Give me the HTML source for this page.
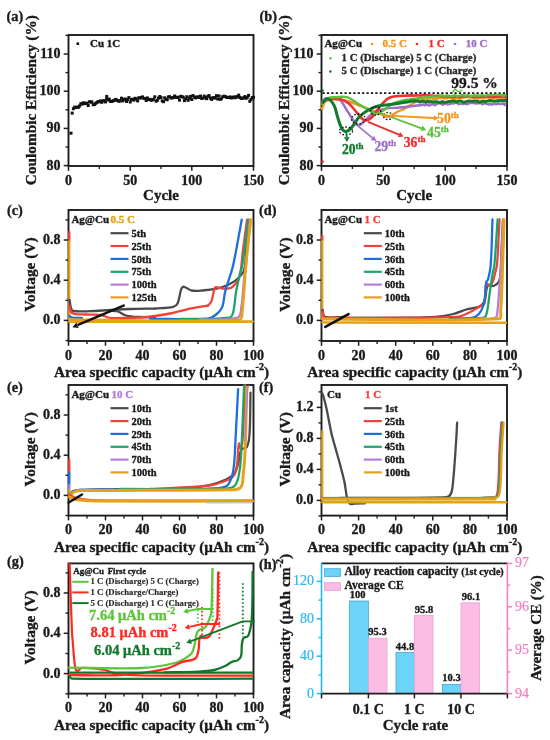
<!DOCTYPE html>
<html><head><meta charset="utf-8"><style>html,body{margin:0;padding:0;background:#fff;overflow:hidden;width:550px;height:740px}svg{display:block;filter:blur(0.4px)}</style></head>
<body>
<svg width="550" height="740" viewBox="0 0 550 740" font-family='"Liberation Serif", serif' font-weight="bold">
<rect width="550" height="740" fill="#fff"/>
<rect x="68.5" y="35" width="185.0" height="131.0" fill="none" stroke="#1e1e1e" stroke-width="1.9"/>
<line x1="63.7" y1="165.6" x2="68.5" y2="165.6" stroke="#1e1e1e" stroke-width="1.5"/>
<line x1="63.7" y1="128.4" x2="68.5" y2="128.4" stroke="#1e1e1e" stroke-width="1.5"/>
<line x1="63.7" y1="91.2" x2="68.5" y2="91.2" stroke="#1e1e1e" stroke-width="1.5"/>
<line x1="63.7" y1="54.0" x2="68.5" y2="54.0" stroke="#1e1e1e" stroke-width="1.5"/>
<line x1="65.5" y1="147.0" x2="68.5" y2="147.0" stroke="#1e1e1e" stroke-width="1.4"/>
<line x1="65.5" y1="109.8" x2="68.5" y2="109.8" stroke="#1e1e1e" stroke-width="1.4"/>
<line x1="65.5" y1="72.6" x2="68.5" y2="72.6" stroke="#1e1e1e" stroke-width="1.4"/>
<line x1="65.5" y1="35.4" x2="68.5" y2="35.4" stroke="#1e1e1e" stroke-width="1.4"/>
<text x="60.5" y="169.5" font-size="14" text-anchor="end" fill="#1a1a1a" stroke="#1a1a1a" stroke-width="0.35">80</text>
<text x="60.5" y="132.3" font-size="14" text-anchor="end" fill="#1a1a1a" stroke="#1a1a1a" stroke-width="0.35">90</text>
<text x="60.5" y="95.1" font-size="14" text-anchor="end" fill="#1a1a1a" stroke="#1a1a1a" stroke-width="0.35">100</text>
<text x="60.5" y="57.9" font-size="14" text-anchor="end" fill="#1a1a1a" stroke="#1a1a1a" stroke-width="0.35">110</text>
<line x1="68.5" y1="166" x2="68.5" y2="170.8" stroke="#1e1e1e" stroke-width="1.5"/>
<line x1="130.2" y1="166" x2="130.2" y2="170.8" stroke="#1e1e1e" stroke-width="1.5"/>
<line x1="191.8" y1="166" x2="191.8" y2="170.8" stroke="#1e1e1e" stroke-width="1.5"/>
<line x1="253.5" y1="166" x2="253.5" y2="170.8" stroke="#1e1e1e" stroke-width="1.5"/>
<line x1="99.3" y1="166" x2="99.3" y2="169.0" stroke="#1e1e1e" stroke-width="1.4"/>
<line x1="161.0" y1="166" x2="161.0" y2="169.0" stroke="#1e1e1e" stroke-width="1.4"/>
<line x1="222.7" y1="166" x2="222.7" y2="169.0" stroke="#1e1e1e" stroke-width="1.4"/>
<text x="68.5" y="184.5" font-size="14" text-anchor="middle" fill="#1a1a1a" stroke="#1a1a1a" stroke-width="0.35">0</text>
<text x="130.2" y="184.5" font-size="14" text-anchor="middle" fill="#1a1a1a" stroke="#1a1a1a" stroke-width="0.35">50</text>
<text x="191.8" y="184.5" font-size="14" text-anchor="middle" fill="#1a1a1a" stroke="#1a1a1a" stroke-width="0.35">100</text>
<text x="253.5" y="184.5" font-size="14" text-anchor="middle" fill="#1a1a1a" stroke="#1a1a1a" stroke-width="0.35">150</text>
<text x="161.0" y="200.0" font-size="15" text-anchor="middle" fill="#1a1a1a" stroke="#1a1a1a" stroke-width="0.35">Cycle</text>
<text x="36.2" y="100.2" font-size="15.3" text-anchor="middle" fill="#1a1a1a" stroke="#1a1a1a" stroke-width="0.35" transform="rotate(-90 36.2 100.2)">Coulombic Efficiency (%)</text>
<text x="6.5" y="21.0" font-size="14.3" text-anchor="start" fill="#1a1a1a" stroke="#1a1a1a" stroke-width="0.35">(a)</text>
<rect x="69.5" y="131.7" width="3" height="3" fill="#111"/>
<rect x="70.7" y="111.6" width="3" height="3" fill="#111"/>
<rect x="71.9" y="107.2" width="3" height="3" fill="#111"/>
<rect x="73.2" y="105.6" width="3" height="3" fill="#111"/>
<rect x="74.4" y="106.0" width="3" height="3" fill="#111"/>
<rect x="75.6" y="105.6" width="3" height="3" fill="#111"/>
<rect x="76.9" y="105.8" width="3" height="3" fill="#111"/>
<rect x="78.1" y="104.4" width="3" height="3" fill="#111"/>
<rect x="79.3" y="102.2" width="3" height="3" fill="#111"/>
<rect x="80.6" y="102.6" width="3" height="3" fill="#111"/>
<rect x="81.8" y="101.3" width="3" height="3" fill="#111"/>
<rect x="83.0" y="102.1" width="3" height="3" fill="#111"/>
<rect x="84.3" y="101.7" width="3" height="3" fill="#111"/>
<rect x="85.5" y="101.7" width="3" height="3" fill="#111"/>
<rect x="86.7" y="104.0" width="3" height="3" fill="#111"/>
<rect x="88.0" y="100.3" width="3" height="3" fill="#111"/>
<rect x="89.2" y="100.6" width="3" height="3" fill="#111"/>
<rect x="90.4" y="100.4" width="3" height="3" fill="#111"/>
<rect x="91.7" y="103.2" width="3" height="3" fill="#111"/>
<rect x="92.9" y="103.1" width="3" height="3" fill="#111"/>
<rect x="94.1" y="101.9" width="3" height="3" fill="#111"/>
<rect x="95.4" y="101.1" width="3" height="3" fill="#111"/>
<rect x="96.6" y="100.0" width="3" height="3" fill="#111"/>
<rect x="97.8" y="100.3" width="3" height="3" fill="#111"/>
<rect x="99.1" y="99.4" width="3" height="3" fill="#111"/>
<rect x="100.3" y="100.8" width="3" height="3" fill="#111"/>
<rect x="101.5" y="99.4" width="3" height="3" fill="#111"/>
<rect x="102.8" y="99.1" width="3" height="3" fill="#111"/>
<rect x="104.0" y="100.4" width="3" height="3" fill="#111"/>
<rect x="105.2" y="97.1" width="3" height="3" fill="#111"/>
<rect x="106.5" y="98.5" width="3" height="3" fill="#111"/>
<rect x="107.7" y="97.6" width="3" height="3" fill="#111"/>
<rect x="108.9" y="99.9" width="3" height="3" fill="#111"/>
<rect x="110.2" y="100.0" width="3" height="3" fill="#111"/>
<rect x="111.4" y="99.4" width="3" height="3" fill="#111"/>
<rect x="112.6" y="99.0" width="3" height="3" fill="#111"/>
<rect x="113.9" y="97.9" width="3" height="3" fill="#111"/>
<rect x="115.1" y="98.4" width="3" height="3" fill="#111"/>
<rect x="116.3" y="99.2" width="3" height="3" fill="#111"/>
<rect x="117.6" y="99.8" width="3" height="3" fill="#111"/>
<rect x="118.8" y="99.1" width="3" height="3" fill="#111"/>
<rect x="120.0" y="96.7" width="3" height="3" fill="#111"/>
<rect x="121.3" y="99.4" width="3" height="3" fill="#111"/>
<rect x="122.5" y="97.9" width="3" height="3" fill="#111"/>
<rect x="123.7" y="97.5" width="3" height="3" fill="#111"/>
<rect x="125.0" y="100.0" width="3" height="3" fill="#111"/>
<rect x="126.2" y="97.9" width="3" height="3" fill="#111"/>
<rect x="127.4" y="96.1" width="3" height="3" fill="#111"/>
<rect x="128.7" y="100.5" width="3" height="3" fill="#111"/>
<rect x="129.9" y="98.1" width="3" height="3" fill="#111"/>
<rect x="131.1" y="97.7" width="3" height="3" fill="#111"/>
<rect x="132.4" y="98.6" width="3" height="3" fill="#111"/>
<rect x="133.6" y="96.8" width="3" height="3" fill="#111"/>
<rect x="134.8" y="97.5" width="3" height="3" fill="#111"/>
<rect x="136.1" y="99.4" width="3" height="3" fill="#111"/>
<rect x="137.3" y="96.3" width="3" height="3" fill="#111"/>
<rect x="138.5" y="96.5" width="3" height="3" fill="#111"/>
<rect x="139.8" y="96.1" width="3" height="3" fill="#111"/>
<rect x="141.0" y="95.4" width="3" height="3" fill="#111"/>
<rect x="142.2" y="96.8" width="3" height="3" fill="#111"/>
<rect x="143.5" y="97.1" width="3" height="3" fill="#111"/>
<rect x="144.7" y="99.0" width="3" height="3" fill="#111"/>
<rect x="145.9" y="96.4" width="3" height="3" fill="#111"/>
<rect x="147.2" y="98.0" width="3" height="3" fill="#111"/>
<rect x="148.4" y="97.8" width="3" height="3" fill="#111"/>
<rect x="149.6" y="98.8" width="3" height="3" fill="#111"/>
<rect x="150.9" y="98.4" width="3" height="3" fill="#111"/>
<rect x="152.1" y="97.8" width="3" height="3" fill="#111"/>
<rect x="153.3" y="95.3" width="3" height="3" fill="#111"/>
<rect x="154.6" y="99.7" width="3" height="3" fill="#111"/>
<rect x="155.8" y="98.9" width="3" height="3" fill="#111"/>
<rect x="157.0" y="96.6" width="3" height="3" fill="#111"/>
<rect x="158.3" y="95.0" width="3" height="3" fill="#111"/>
<rect x="159.5" y="96.1" width="3" height="3" fill="#111"/>
<rect x="160.7" y="99.4" width="3" height="3" fill="#111"/>
<rect x="162.0" y="100.2" width="3" height="3" fill="#111"/>
<rect x="163.2" y="96.3" width="3" height="3" fill="#111"/>
<rect x="164.4" y="97.8" width="3" height="3" fill="#111"/>
<rect x="165.7" y="98.3" width="3" height="3" fill="#111"/>
<rect x="166.9" y="95.4" width="3" height="3" fill="#111"/>
<rect x="168.1" y="95.2" width="3" height="3" fill="#111"/>
<rect x="169.4" y="96.5" width="3" height="3" fill="#111"/>
<rect x="170.6" y="96.3" width="3" height="3" fill="#111"/>
<rect x="171.8" y="96.1" width="3" height="3" fill="#111"/>
<rect x="173.1" y="94.5" width="3" height="3" fill="#111"/>
<rect x="174.3" y="95.8" width="3" height="3" fill="#111"/>
<rect x="175.5" y="95.9" width="3" height="3" fill="#111"/>
<rect x="176.8" y="95.8" width="3" height="3" fill="#111"/>
<rect x="178.0" y="98.6" width="3" height="3" fill="#111"/>
<rect x="179.2" y="94.8" width="3" height="3" fill="#111"/>
<rect x="180.5" y="95.2" width="3" height="3" fill="#111"/>
<rect x="181.7" y="95.7" width="3" height="3" fill="#111"/>
<rect x="182.9" y="99.1" width="3" height="3" fill="#111"/>
<rect x="184.2" y="97.2" width="3" height="3" fill="#111"/>
<rect x="185.4" y="95.2" width="3" height="3" fill="#111"/>
<rect x="186.6" y="98.8" width="3" height="3" fill="#111"/>
<rect x="187.9" y="96.6" width="3" height="3" fill="#111"/>
<rect x="189.1" y="94.9" width="3" height="3" fill="#111"/>
<rect x="190.3" y="98.0" width="3" height="3" fill="#111"/>
<rect x="191.6" y="94.1" width="3" height="3" fill="#111"/>
<rect x="192.8" y="95.5" width="3" height="3" fill="#111"/>
<rect x="194.0" y="96.4" width="3" height="3" fill="#111"/>
<rect x="195.3" y="95.7" width="3" height="3" fill="#111"/>
<rect x="196.5" y="95.3" width="3" height="3" fill="#111"/>
<rect x="197.7" y="96.0" width="3" height="3" fill="#111"/>
<rect x="199.0" y="94.6" width="3" height="3" fill="#111"/>
<rect x="200.2" y="97.0" width="3" height="3" fill="#111"/>
<rect x="201.4" y="96.6" width="3" height="3" fill="#111"/>
<rect x="202.7" y="94.6" width="3" height="3" fill="#111"/>
<rect x="203.9" y="96.0" width="3" height="3" fill="#111"/>
<rect x="205.1" y="97.2" width="3" height="3" fill="#111"/>
<rect x="206.4" y="94.8" width="3" height="3" fill="#111"/>
<rect x="207.6" y="94.1" width="3" height="3" fill="#111"/>
<rect x="208.8" y="96.7" width="3" height="3" fill="#111"/>
<rect x="210.1" y="97.9" width="3" height="3" fill="#111"/>
<rect x="211.3" y="96.3" width="3" height="3" fill="#111"/>
<rect x="212.5" y="96.3" width="3" height="3" fill="#111"/>
<rect x="213.8" y="96.5" width="3" height="3" fill="#111"/>
<rect x="215.0" y="94.2" width="3" height="3" fill="#111"/>
<rect x="216.2" y="97.5" width="3" height="3" fill="#111"/>
<rect x="217.5" y="94.4" width="3" height="3" fill="#111"/>
<rect x="218.7" y="97.8" width="3" height="3" fill="#111"/>
<rect x="219.9" y="97.2" width="3" height="3" fill="#111"/>
<rect x="221.2" y="95.3" width="3" height="3" fill="#111"/>
<rect x="222.4" y="94.7" width="3" height="3" fill="#111"/>
<rect x="223.6" y="95.0" width="3" height="3" fill="#111"/>
<rect x="224.9" y="95.7" width="3" height="3" fill="#111"/>
<rect x="226.1" y="96.0" width="3" height="3" fill="#111"/>
<rect x="227.3" y="96.0" width="3" height="3" fill="#111"/>
<rect x="228.6" y="95.4" width="3" height="3" fill="#111"/>
<rect x="229.8" y="96.5" width="3" height="3" fill="#111"/>
<rect x="231.0" y="95.9" width="3" height="3" fill="#111"/>
<rect x="232.3" y="95.5" width="3" height="3" fill="#111"/>
<rect x="233.5" y="96.3" width="3" height="3" fill="#111"/>
<rect x="234.7" y="95.2" width="3" height="3" fill="#111"/>
<rect x="236.0" y="95.5" width="3" height="3" fill="#111"/>
<rect x="237.2" y="93.6" width="3" height="3" fill="#111"/>
<rect x="238.4" y="95.9" width="3" height="3" fill="#111"/>
<rect x="239.7" y="96.9" width="3" height="3" fill="#111"/>
<rect x="240.9" y="96.8" width="3" height="3" fill="#111"/>
<rect x="242.1" y="96.3" width="3" height="3" fill="#111"/>
<rect x="243.4" y="95.1" width="3" height="3" fill="#111"/>
<rect x="244.6" y="96.8" width="3" height="3" fill="#111"/>
<rect x="245.8" y="95.8" width="3" height="3" fill="#111"/>
<rect x="247.1" y="93.9" width="3" height="3" fill="#111"/>
<rect x="248.3" y="99.8" width="3" height="3" fill="#111"/>
<rect x="249.5" y="97.9" width="3" height="3" fill="#111"/>
<rect x="250.8" y="96.1" width="3" height="3" fill="#111"/>
<rect x="252.0" y="95.9" width="3" height="3" fill="#111"/>
<rect x="105.2" y="94.9" width="3" height="3" fill="#111"/>
<rect x="76.5" y="42.4" width="2.6" height="2.6" fill="#111"/>
<text x="90.0" y="46.8" font-size="11" text-anchor="start" fill="#1a1a1a" stroke="#1a1a1a" stroke-width="0.35">Cu 1C</text>
<rect x="321.5" y="35" width="185.5" height="131.0" fill="none" stroke="#1e1e1e" stroke-width="1.9"/>
<line x1="316.7" y1="165.6" x2="321.5" y2="165.6" stroke="#1e1e1e" stroke-width="1.5"/>
<line x1="316.7" y1="128.4" x2="321.5" y2="128.4" stroke="#1e1e1e" stroke-width="1.5"/>
<line x1="316.7" y1="91.2" x2="321.5" y2="91.2" stroke="#1e1e1e" stroke-width="1.5"/>
<line x1="316.7" y1="54.0" x2="321.5" y2="54.0" stroke="#1e1e1e" stroke-width="1.5"/>
<line x1="318.5" y1="147.0" x2="321.5" y2="147.0" stroke="#1e1e1e" stroke-width="1.4"/>
<line x1="318.5" y1="109.8" x2="321.5" y2="109.8" stroke="#1e1e1e" stroke-width="1.4"/>
<line x1="318.5" y1="72.6" x2="321.5" y2="72.6" stroke="#1e1e1e" stroke-width="1.4"/>
<line x1="318.5" y1="35.4" x2="321.5" y2="35.4" stroke="#1e1e1e" stroke-width="1.4"/>
<text x="313.5" y="169.5" font-size="14" text-anchor="end" fill="#1a1a1a" stroke="#1a1a1a" stroke-width="0.35">80</text>
<text x="313.5" y="132.3" font-size="14" text-anchor="end" fill="#1a1a1a" stroke="#1a1a1a" stroke-width="0.35">90</text>
<text x="313.5" y="95.1" font-size="14" text-anchor="end" fill="#1a1a1a" stroke="#1a1a1a" stroke-width="0.35">100</text>
<text x="313.5" y="57.9" font-size="14" text-anchor="end" fill="#1a1a1a" stroke="#1a1a1a" stroke-width="0.35">110</text>
<line x1="321.5" y1="166" x2="321.5" y2="170.8" stroke="#1e1e1e" stroke-width="1.5"/>
<line x1="383.3" y1="166" x2="383.3" y2="170.8" stroke="#1e1e1e" stroke-width="1.5"/>
<line x1="445.2" y1="166" x2="445.2" y2="170.8" stroke="#1e1e1e" stroke-width="1.5"/>
<line x1="507.0" y1="166" x2="507.0" y2="170.8" stroke="#1e1e1e" stroke-width="1.5"/>
<line x1="352.4" y1="166" x2="352.4" y2="169.0" stroke="#1e1e1e" stroke-width="1.4"/>
<line x1="414.2" y1="166" x2="414.2" y2="169.0" stroke="#1e1e1e" stroke-width="1.4"/>
<line x1="476.1" y1="166" x2="476.1" y2="169.0" stroke="#1e1e1e" stroke-width="1.4"/>
<text x="321.5" y="184.5" font-size="14" text-anchor="middle" fill="#1a1a1a" stroke="#1a1a1a" stroke-width="0.35">0</text>
<text x="383.3" y="184.5" font-size="14" text-anchor="middle" fill="#1a1a1a" stroke="#1a1a1a" stroke-width="0.35">50</text>
<text x="445.2" y="184.5" font-size="14" text-anchor="middle" fill="#1a1a1a" stroke="#1a1a1a" stroke-width="0.35">100</text>
<text x="507.0" y="184.5" font-size="14" text-anchor="middle" fill="#1a1a1a" stroke="#1a1a1a" stroke-width="0.35">150</text>
<text x="414.2" y="200.0" font-size="15" text-anchor="middle" fill="#1a1a1a" stroke="#1a1a1a" stroke-width="0.35">Cycle</text>
<text x="289.2" y="100.2" font-size="15.3" text-anchor="middle" fill="#1a1a1a" stroke="#1a1a1a" stroke-width="0.35" transform="rotate(-90 289.2 100.2)">Coulombic Efficiency (%)</text>
<text x="259.5" y="21.0" font-size="14.3" text-anchor="start" fill="#1a1a1a" stroke="#1a1a1a" stroke-width="0.35">(b)</text>
<line x1="322.5" y1="93.1" x2="506.0" y2="93.1" stroke="#111" stroke-width="1.6" stroke-dasharray="2.2,2.2"/>
<path d="M322.00,109.00 C322.99,106.69 323.38,103.92 325.00,102.00 C326.19,100.59 328.17,99.77 330.00,99.50 C333.27,99.02 336.72,99.45 340.00,99.80 C343.01,100.12 346.11,100.61 349.00,101.50 C353.40,102.86 357.69,104.97 362.00,106.60 C367.26,108.60 372.76,110.44 378.00,112.50 C381.34,113.81 384.41,116.89 388.00,116.80 C391.36,116.71 393.98,113.49 397.00,112.00 C399.60,110.72 402.47,109.81 405.00,108.40 C408.42,106.50 411.70,104.11 415.00,102.00" fill="none" stroke="#f7941d" stroke-width="2.4" stroke-linejoin="round" stroke-linecap="round"/>
<path d="M415.0,102.0 L416.6,101.3 L418.2,100.7 L419.8,101.0 L421.4,99.6 L423.0,98.9 L424.6,99.8 L426.2,99.0 L427.8,98.4 L429.4,98.8 L431.0,98.0 L432.6,98.7 L434.2,99.2 L435.8,99.0 L437.4,98.7 L439.0,98.0 L440.6,98.1 L442.2,97.7 L443.8,98.5 L445.4,98.1 L447.0,98.3 L448.6,97.6 L450.2,97.4 L451.8,98.2 L453.4,98.5 L455.0,98.3 L456.6,98.2 L458.2,98.2 L459.8,98.1 L461.4,97.3 L463.0,97.7 L464.6,97.5 L466.2,97.0 L467.8,97.0 L469.4,97.4 L471.0,97.3 L472.6,97.9 L474.2,98.3 L475.8,97.5 L477.4,98.2 L479.0,98.3 L480.6,98.2 L482.2,97.4 L483.8,97.2 L485.4,97.2 L487.0,97.1 L488.6,97.1 L490.2,97.7 L491.8,98.1 L493.4,98.0 L495.0,97.4 L496.6,97.7 L498.2,97.9 L499.8,96.9 L501.4,97.7 L503.0,98.0 L504.6,97.8 L505.5,97.8" fill="none" stroke="#f7941d" stroke-width="2.4" stroke-linejoin="round" stroke-linecap="round"/>
<path d="M322.00,102.00 C323.32,100.81 324.24,98.67 326.00,98.40 C330.25,97.75 335.14,97.50 339.00,99.40 C342.19,100.97 343.48,105.07 345.50,108.00 C347.78,111.31 349.66,115.03 352.00,118.30 C353.80,120.82 354.99,124.77 358.00,125.50 C360.37,126.07 362.11,122.74 364.00,121.20 C367.39,118.44 370.20,114.67 374.00,112.50 C377.61,110.43 381.91,109.39 386.00,108.60 C390.55,107.72 395.39,107.96 400.00,107.50 C406.61,106.84 413.40,105.96 420.00,105.20" fill="none" stroke="#9f6ec9" stroke-width="2.4" stroke-linejoin="round" stroke-linecap="round"/>
<path d="M420.0,105.2 L421.6,105.1 L423.2,104.4 L424.8,105.4 L426.4,104.5 L428.0,105.3 L429.6,105.5 L431.2,104.4 L432.8,104.3 L434.4,105.2 L436.0,104.7 L437.6,103.6 L439.2,103.4 L440.8,103.4 L442.4,104.7 L444.0,104.4 L445.6,103.1 L447.2,104.2 L448.8,104.4 L450.4,103.8 L452.0,103.2 L453.6,103.6 L455.2,102.8 L456.8,102.6 L458.4,104.3 L460.0,103.8 L461.6,103.5 L463.2,104.3 L464.8,103.4 L466.4,104.2 L468.0,104.1 L469.6,103.0 L471.2,103.1 L472.8,103.1 L474.4,103.0 L476.0,103.7 L477.6,103.1 L479.2,103.4 L480.8,102.9 L482.4,104.3 L484.0,103.4 L485.6,103.6 L487.2,103.9 L488.8,104.6 L490.4,103.8 L492.0,104.7 L493.6,104.0 L495.2,104.1 L496.8,104.2 L498.4,103.3 L500.0,104.2 L501.6,103.8 L503.2,103.5 L504.8,105.0 L505.5,103.9" fill="none" stroke="#9f6ec9" stroke-width="2.4" stroke-linejoin="round" stroke-linecap="round"/>
<path d="M322.50,102.00 C323.99,101.17 325.33,99.79 327.00,99.50 C331.23,98.77 335.78,98.19 340.00,99.00 C343.29,99.63 346.42,101.56 349.00,103.70 C352.46,106.56 354.90,110.65 358.00,113.90 C360.19,116.20 361.89,119.87 365.00,120.50 C367.68,121.04 370.43,118.69 372.40,116.80 C375.84,113.51 377.79,108.72 381.00,105.20 C383.63,102.31 386.30,98.75 390.00,97.50 C396.29,95.38 403.40,96.09 410.00,95.40" fill="none" stroke="#f22f2f" stroke-width="2.6" stroke-linejoin="round" stroke-linecap="round"/>
<path d="M410.0,95.4 L411.6,95.4 L413.2,95.6 L414.8,95.5 L416.4,95.2 L418.0,95.4 L419.6,95.5 L421.2,95.7 L422.8,95.0 L424.4,95.5 L426.0,95.1 L427.6,95.2 L429.2,95.7 L430.8,95.5 L432.4,95.6 L434.0,95.9 L435.6,96.1 L437.2,95.8 L438.8,96.0 L440.4,96.0 L442.0,96.1 L443.6,96.4 L445.2,96.3 L446.8,96.4 L448.4,96.5 L450.0,97.0 L451.6,96.8 L453.2,97.0 L454.8,97.0 L456.4,96.4 L458.0,96.7 L459.6,97.0 L461.2,96.9 L462.8,96.2 L464.4,96.2 L466.0,96.5 L467.6,96.2 L469.2,96.3 L470.8,96.2 L472.4,96.8 L474.0,96.9 L475.6,97.0 L477.2,96.3 L478.8,96.8 L480.4,96.8 L482.0,96.2 L483.6,97.0 L485.2,97.1 L486.8,96.3 L488.4,97.1 L490.0,96.5 L491.6,96.6 L493.2,97.1 L494.8,96.9 L496.4,96.3 L498.0,96.5 L499.6,96.6 L501.2,96.4 L502.8,96.3 L504.4,96.4 L505.5,96.8" fill="none" stroke="#f22f2f" stroke-width="2.6" stroke-linejoin="round" stroke-linecap="round"/>
<path d="M322.00,104.00 C323.65,102.19 324.83,99.64 327.00,98.50 C329.37,97.26 332.33,97.37 335.00,97.20 C338.95,96.94 343.19,96.12 347.00,97.20 C351.06,98.35 354.36,101.57 358.00,103.70 C361.29,105.63 364.69,107.61 368.00,109.50 C370.63,111.00 372.97,113.91 376.00,114.00 C378.95,114.09 381.50,111.56 384.00,110.00 C386.80,108.25 389.02,105.42 392.00,104.00 C396.05,102.07 400.61,100.94 405.00,100.00 C409.88,98.95 415.05,98.66 420.00,98.00" fill="none" stroke="#5dbf3a" stroke-width="2.4" stroke-linejoin="round" stroke-linecap="round"/>
<path d="M420.0,98.0 L421.6,97.3 L423.2,97.7 L424.8,97.4 L426.4,96.7 L428.0,97.0 L429.6,97.1 L431.2,96.8 L432.8,96.1 L434.4,97.1 L436.0,96.7 L437.6,96.7 L439.2,95.5 L440.8,95.6 L442.4,95.3 L444.0,96.2 L445.6,95.6 L447.2,95.4 L448.8,95.7 L450.4,96.3 L452.0,96.2 L453.6,95.5 L455.2,95.3 L456.8,96.2 L458.4,95.8 L460.0,95.9 L461.6,95.2 L463.2,95.1 L464.8,95.9 L466.4,95.5 L468.0,95.1 L469.6,96.1 L471.2,95.7 L472.8,95.9 L474.4,95.0 L476.0,95.9 L477.6,95.0 L479.2,95.9 L480.8,95.4 L482.4,95.3 L484.0,95.5 L485.6,95.9 L487.2,95.1 L488.8,94.9 L490.4,95.4 L492.0,95.0 L493.6,94.9 L495.2,94.9 L496.8,94.8 L498.4,94.9 L500.0,95.0 L501.6,95.0 L503.2,95.5 L504.8,95.0 L505.5,95.2" fill="none" stroke="#5dbf3a" stroke-width="2.4" stroke-linejoin="round" stroke-linecap="round"/>
<path d="M322.90,102.30 C324.35,101.08 325.46,98.12 327.30,98.60 C330.30,99.38 332.48,102.49 334.00,105.20 C335.95,108.69 336.23,113.01 337.50,116.80 C338.81,120.70 339.69,124.97 341.80,128.50 C342.69,129.99 344.48,131.65 346.20,131.40 C348.58,131.05 350.40,128.79 352.00,127.00 C354.76,123.92 356.44,119.79 359.30,116.80 C361.78,114.21 364.90,112.10 368.00,110.30 C371.11,108.48 374.51,106.82 378.00,105.90 C381.86,104.88 386.05,105.06 390.00,104.50 C396.61,103.57 403.40,102.42 410.00,101.40" fill="none" stroke="#127a2e" stroke-width="3.0" stroke-linejoin="round" stroke-linecap="round"/>
<path d="M410.0,101.4 L411.6,100.9 L413.2,101.2 L414.8,100.7 L416.4,101.1 L418.0,100.8 L419.6,101.9 L421.2,101.7 L422.8,101.1 L424.4,101.6 L426.0,102.4 L427.6,101.1 L429.2,102.2 L430.8,101.6 L432.4,101.8 L434.0,102.3 L435.6,101.7 L437.2,101.9 L438.8,102.2 L440.4,102.7 L442.0,101.6 L443.6,102.4 L445.2,102.2 L446.8,102.0 L448.4,101.6 L450.0,101.5 L451.6,101.0 L453.2,101.1 L454.8,101.0 L456.4,102.1 L458.0,101.3 L459.6,101.1 L461.2,100.9 L462.8,102.1 L464.4,102.2 L466.0,101.8 L467.6,101.2 L469.2,101.1 L470.8,101.1 L472.4,101.4 L474.0,100.9 L475.6,101.3 L477.2,101.0 L478.8,102.1 L480.4,102.1 L482.0,101.4 L483.6,100.9 L485.2,102.0 L486.8,101.0 L488.4,101.0 L490.0,100.4 L491.6,101.0 L493.2,101.1 L494.8,101.2 L496.4,100.7 L498.0,101.1 L499.6,100.3 L501.2,100.7 L502.8,100.4 L504.4,100.9 L505.5,100.3" fill="none" stroke="#127a2e" stroke-width="3.0" stroke-linejoin="round" stroke-linecap="round"/>
<path d="M452,93 L455,89 L459,92 L462,90" fill="none" stroke="#5dbf3a" stroke-width="1.4"/>
<ellipse cx="346" cy="131" rx="6.5" ry="4" fill="none" stroke="#111" stroke-width="1.3" stroke-dasharray="1.6,1.8"/>
<ellipse cx="358.5" cy="119" rx="7" ry="5" fill="none" stroke="#111" stroke-width="1.3" stroke-dasharray="1.6,1.8"/>
<ellipse cx="375.7" cy="111" rx="5" ry="4.2" fill="none" stroke="#111" stroke-width="1.3" stroke-dasharray="1.6,1.8"/>
<ellipse cx="388" cy="116" rx="4.5" ry="3.6" fill="none" stroke="#111" stroke-width="1.3" stroke-dasharray="1.6,1.8"/>
<circle cx="322.6" cy="161.6" r="1.3" fill="#f22f2f"/>
<circle cx="322.6" cy="90.6" r="1.3" fill="#127a2e"/>
<line x1="346.5" y1="133.0" x2="346.7" y2="137.0" stroke="#127a2e" stroke-width="1.6"/>
<polygon points="347.0,142.0 343.9,137.2 349.5,136.9" fill="#127a2e"/>
<line x1="358.5" y1="126.3" x2="372.4" y2="137.8" stroke="#9f6ec9" stroke-width="1.7"/>
<polygon points="376.3,141.0 370.7,140.0 374.2,135.7" fill="#9f6ec9"/>
<line x1="368.0" y1="121.9" x2="399.0" y2="134.6" stroke="#f22f2f" stroke-width="1.8"/>
<polygon points="403.6,136.5 397.9,137.2 400.0,132.0" fill="#f22f2f"/>
<line x1="379.0" y1="112.5" x2="421.5" y2="128.3" stroke="#5dbf3a" stroke-width="1.8"/>
<polygon points="426.2,130.0 420.5,130.9 422.5,125.6" fill="#5dbf3a"/>
<line x1="383.3" y1="115.4" x2="433.5" y2="118.0" stroke="#f7941d" stroke-width="1.8"/>
<polygon points="438.5,118.3 433.4,120.8 433.7,115.2" fill="#f7941d"/>
<text x="342.0" y="154.0" font-size="13.6" text-anchor="start" fill="#127a2e" stroke="#127a2e" stroke-width="0.35">20<tspan dy="-5" font-size="9">th</tspan></text>
<text x="374.5" y="151.0" font-size="13.6" text-anchor="start" fill="#9f6ec9" stroke="#9f6ec9" stroke-width="0.35">29<tspan dy="-5" font-size="9">th</tspan></text>
<text x="403.8" y="147.3" font-size="13.6" text-anchor="start" fill="#f22f2f" stroke="#f22f2f" stroke-width="0.35">36<tspan dy="-5" font-size="9">th</tspan></text>
<text x="427.0" y="137.4" font-size="13.8" text-anchor="start" fill="#5dbf3a" stroke="#5dbf3a" stroke-width="0.35">45<tspan dy="-5" font-size="9">th</tspan></text>
<text x="437.0" y="122.9" font-size="13.8" text-anchor="start" fill="#f7941d" stroke="#f7941d" stroke-width="0.35">50<tspan dy="-5" font-size="9">th</tspan></text>
<text x="451.3" y="87.8" font-size="15.5" text-anchor="start" fill="#1a1a1a" stroke="#1a1a1a" stroke-width="0.35">99.5 %</text>
<text x="324.4" y="46.7" font-size="11" text-anchor="start" fill="#1a1a1a" stroke="#1a1a1a" stroke-width="0.35">Ag@Cu</text>
<circle cx="372" cy="44" r="1.3" fill="#f7941d"/>
<text x="382.5" y="46.7" font-size="11" text-anchor="start" fill="#f7941d" stroke="#f7941d" stroke-width="0.35">0.5 C</text>
<circle cx="417" cy="44" r="1.3" fill="#f22f2f"/>
<text x="428.5" y="46.7" font-size="11" text-anchor="start" fill="#f22f2f" stroke="#f22f2f" stroke-width="0.35">1 C</text>
<circle cx="455" cy="44" r="1.3" fill="#9f6ec9"/>
<text x="465.8" y="46.7" font-size="11" text-anchor="start" fill="#9f6ec9" stroke="#9f6ec9" stroke-width="0.35">10 C</text>
<circle cx="330.4" cy="58.2" r="1.3" fill="#5dbf3a"/>
<text x="341.6" y="61.0" font-size="10.8" text-anchor="start" fill="#2a2a2a" stroke="#2a2a2a" stroke-width="0.35">1 C (Discharge) 5 C (Charge)</text>
<circle cx="330.4" cy="71.5" r="1.3" fill="#127a2e"/>
<text x="341.6" y="74.2" font-size="10.8" text-anchor="start" fill="#2a2a2a" stroke="#2a2a2a" stroke-width="0.35">5 C (Discharge) 1 C (Charge)</text>
<rect x="68.5" y="210" width="185.0" height="131.0" fill="none" stroke="#1e1e1e" stroke-width="1.9"/>
<line x1="63.7" y1="320.4" x2="68.5" y2="320.4" stroke="#1e1e1e" stroke-width="1.5"/>
<line x1="63.7" y1="280.2" x2="68.5" y2="280.2" stroke="#1e1e1e" stroke-width="1.5"/>
<line x1="63.7" y1="240.0" x2="68.5" y2="240.0" stroke="#1e1e1e" stroke-width="1.5"/>
<line x1="65.5" y1="340.5" x2="68.5" y2="340.5" stroke="#1e1e1e" stroke-width="1.4"/>
<line x1="65.5" y1="300.3" x2="68.5" y2="300.3" stroke="#1e1e1e" stroke-width="1.4"/>
<line x1="65.5" y1="260.1" x2="68.5" y2="260.1" stroke="#1e1e1e" stroke-width="1.4"/>
<line x1="65.5" y1="219.9" x2="68.5" y2="219.9" stroke="#1e1e1e" stroke-width="1.4"/>
<text x="60.5" y="324.3" font-size="14" text-anchor="end" fill="#1a1a1a" stroke="#1a1a1a" stroke-width="0.35">0.0</text>
<text x="60.5" y="284.1" font-size="14" text-anchor="end" fill="#1a1a1a" stroke="#1a1a1a" stroke-width="0.35">0.4</text>
<text x="60.5" y="243.9" font-size="14" text-anchor="end" fill="#1a1a1a" stroke="#1a1a1a" stroke-width="0.35">0.8</text>
<line x1="68.5" y1="341" x2="68.5" y2="345.8" stroke="#1e1e1e" stroke-width="1.5"/>
<line x1="105.5" y1="341" x2="105.5" y2="345.8" stroke="#1e1e1e" stroke-width="1.5"/>
<line x1="142.5" y1="341" x2="142.5" y2="345.8" stroke="#1e1e1e" stroke-width="1.5"/>
<line x1="179.5" y1="341" x2="179.5" y2="345.8" stroke="#1e1e1e" stroke-width="1.5"/>
<line x1="216.5" y1="341" x2="216.5" y2="345.8" stroke="#1e1e1e" stroke-width="1.5"/>
<line x1="253.5" y1="341" x2="253.5" y2="345.8" stroke="#1e1e1e" stroke-width="1.5"/>
<line x1="87.0" y1="341" x2="87.0" y2="344.0" stroke="#1e1e1e" stroke-width="1.4"/>
<line x1="124.0" y1="341" x2="124.0" y2="344.0" stroke="#1e1e1e" stroke-width="1.4"/>
<line x1="161.0" y1="341" x2="161.0" y2="344.0" stroke="#1e1e1e" stroke-width="1.4"/>
<line x1="198.0" y1="341" x2="198.0" y2="344.0" stroke="#1e1e1e" stroke-width="1.4"/>
<line x1="235.0" y1="341" x2="235.0" y2="344.0" stroke="#1e1e1e" stroke-width="1.4"/>
<text x="68.5" y="359.5" font-size="14" text-anchor="middle" fill="#1a1a1a" stroke="#1a1a1a" stroke-width="0.35">0</text>
<text x="105.5" y="359.5" font-size="14" text-anchor="middle" fill="#1a1a1a" stroke="#1a1a1a" stroke-width="0.35">20</text>
<text x="142.5" y="359.5" font-size="14" text-anchor="middle" fill="#1a1a1a" stroke="#1a1a1a" stroke-width="0.35">40</text>
<text x="179.5" y="359.5" font-size="14" text-anchor="middle" fill="#1a1a1a" stroke="#1a1a1a" stroke-width="0.35">60</text>
<text x="216.5" y="359.5" font-size="14" text-anchor="middle" fill="#1a1a1a" stroke="#1a1a1a" stroke-width="0.35">80</text>
<text x="253.5" y="359.5" font-size="14" text-anchor="middle" fill="#1a1a1a" stroke="#1a1a1a" stroke-width="0.35">100</text>
<text x="161.5" y="377.0" font-size="15.2" text-anchor="middle" fill="#1a1a1a" stroke="#1a1a1a" stroke-width="0.35">Area specific capacity (μAh cm<tspan dy="-7" font-size="10">-2</tspan><tspan dy="7">)</tspan></text>
<text x="35.1" y="274.5" font-size="15.4" text-anchor="middle" fill="#1a1a1a" stroke="#1a1a1a" stroke-width="0.35" transform="rotate(-90 35.1 274.5)">Voltage (V)</text>
<text x="7.0" y="214.5" font-size="14.3" text-anchor="start" fill="#1a1a1a" stroke="#1a1a1a" stroke-width="0.35">(c)</text>
<text x="71.4" y="222.6" font-size="11" text-anchor="start" fill="#1a1a1a" stroke="#1a1a1a" stroke-width="0.35">Ag@Cu</text>
<text x="110.5" y="222.6" font-size="11" text-anchor="start" fill="#e5a117" stroke="#e5a117" stroke-width="0.35">0.5 C</text>
<line x1="110.5" y1="233.2" x2="128.5" y2="233.2" stroke="#4a4a4a" stroke-width="2.2"/>
<text x="131.5" y="236.8" font-size="10.5" text-anchor="start" fill="#1a1a1a" stroke="#1a1a1a" stroke-width="0.35">5th</text>
<line x1="110.5" y1="246.0" x2="128.5" y2="246.0" stroke="#f0413c" stroke-width="2.2"/>
<text x="131.5" y="249.6" font-size="10.5" text-anchor="start" fill="#1a1a1a" stroke="#1a1a1a" stroke-width="0.35">25th</text>
<line x1="110.5" y1="258.9" x2="128.5" y2="258.9" stroke="#1c6fdc" stroke-width="2.2"/>
<text x="131.5" y="262.5" font-size="10.5" text-anchor="start" fill="#1a1a1a" stroke="#1a1a1a" stroke-width="0.35">50th</text>
<line x1="110.5" y1="271.8" x2="128.5" y2="271.8" stroke="#1ca56b" stroke-width="2.2"/>
<text x="131.5" y="275.4" font-size="10.5" text-anchor="start" fill="#1a1a1a" stroke="#1a1a1a" stroke-width="0.35">75th</text>
<line x1="110.5" y1="284.6" x2="128.5" y2="284.6" stroke="#b27ddf" stroke-width="2.2"/>
<text x="131.5" y="288.2" font-size="10.5" text-anchor="start" fill="#1a1a1a" stroke="#1a1a1a" stroke-width="0.35">100th</text>
<line x1="110.5" y1="297.4" x2="128.5" y2="297.4" stroke="#e5a117" stroke-width="2.2"/>
<text x="131.5" y="301.1" font-size="10.5" text-anchor="start" fill="#1a1a1a" stroke="#1a1a1a" stroke-width="0.35">125th</text>
<path d="M69.3,232.0 L69.3,241.0" fill="none" stroke="#f0413c" stroke-width="2.3" stroke-linejoin="round" stroke-linecap="round"/>
<path d="M69.3,241.0 L69.3,319.0" fill="none" stroke="#e5a117" stroke-width="2.2" stroke-linejoin="round" stroke-linecap="round"/>
<path d="M69.50,300.00 C70.00,302.64 70.19,305.44 71.00,308.00 C71.36,309.13 71.83,310.80 73.00,311.00 C78.53,311.93 84.39,311.35 90.00,311.20 C96.61,311.02 103.40,310.36 110.00,310.00 C116.60,309.64 123.39,309.21 130.00,309.00 C138.25,308.74 146.75,308.73 155.00,308.60" fill="none" stroke="#4a4a4a" stroke-width="2.3" stroke-linejoin="round" stroke-linecap="round"/>
<path d="M110.00,310.50 C112.64,310.83 115.46,310.71 118.00,311.50 C120.82,312.38 123.14,314.78 126.00,315.50 C130.51,316.63 135.36,316.76 140.00,317.00 C144.94,317.26 150.05,317.00 155.00,317.00" fill="none" stroke="#4a4a4a" stroke-width="2.3" stroke-linejoin="round" stroke-linecap="round"/>
<path d="M69.50,306.00 C70.33,308.31 69.85,311.82 72.00,313.00 C75.79,315.08 80.69,314.20 85.00,314.50 C90.27,314.86 95.76,314.32 101.00,315.00 C103.43,315.32 105.61,316.95 108.00,317.50 C110.26,318.02 112.68,318.20 115.00,318.20 C123.25,318.20 131.76,317.95 140.00,317.50 C144.97,317.23 150.07,316.66 155.00,316.00 C159.97,315.34 165.09,314.52 170.00,313.50 C174.99,312.47 180.01,310.85 185.00,309.80 C192.46,308.24 200.21,306.99 207.70,305.60" fill="none" stroke="#f0413c" stroke-width="2.3" stroke-linejoin="round" stroke-linecap="round"/>
<path d="M69.50,316.00 C70.33,316.53 71.03,317.45 72.00,317.60 C75.26,318.12 78.70,317.87 82.00,318.00" fill="none" stroke="#1c6fdc" stroke-width="2.3" stroke-linejoin="round" stroke-linecap="round"/>
<path d="M155.00,308.60 C161.01,308.01 167.33,308.20 173.20,306.80 C175.05,306.36 176.92,304.93 177.70,303.20 C179.74,298.67 179.59,293.23 181.40,288.60 C181.79,287.60 183.05,286.60 184.10,286.80 C186.75,287.30 188.75,289.96 191.40,290.50 C194.92,291.22 198.71,290.77 202.30,290.50 C207.11,290.14 212.08,289.62 216.80,288.60 C220.50,287.80 224.25,286.57 227.70,285.00 C230.89,283.55 234.18,281.83 236.80,279.50 C239.64,276.97 242.87,274.13 244.00,270.50 C246.02,264.01 245.51,256.78 246.00,250.00 C246.67,240.77 247.00,231.24 247.50,222.00" fill="none" stroke="#4a4a4a" stroke-width="2.3" stroke-linejoin="round" stroke-linecap="round"/>
<path d="M207.70,305.90 C208.92,304.41 210.68,303.18 211.40,301.40 C213.14,297.06 212.83,291.84 215.00,287.70 C215.55,286.65 217.42,287.58 218.60,287.70 C220.43,287.88 222.26,288.60 224.10,288.60 C226.53,288.60 229.31,288.94 231.40,287.70 C234.11,286.08 236.09,283.22 237.70,280.50 C239.15,278.04 240.01,275.12 240.50,272.30 C241.77,265.00 242.08,257.35 243.00,250.00 C244.26,239.99 245.75,229.70 247.10,219.70" fill="none" stroke="#f0413c" stroke-width="2.3" stroke-linejoin="round" stroke-linecap="round"/>
<path d="M150.00,318.80 C169.04,318.73 188.71,319.96 207.70,318.60 C211.06,318.36 214.18,316.12 216.80,314.00 C219.13,312.12 221.24,309.60 222.30,306.80 C224.02,302.25 223.91,297.04 225.00,292.30 C225.70,289.25 226.80,286.20 227.70,283.20 C229.50,277.19 231.85,271.13 233.20,265.00 C236.47,250.15 238.89,234.65 241.70,219.70" fill="none" stroke="#1c6fdc" stroke-width="2.3" stroke-linejoin="round" stroke-linecap="round"/>
<path d="M180.00,319.00 C196.34,318.57 213.29,319.74 229.50,317.70 C231.64,317.43 232.66,314.39 233.20,312.30 C234.85,305.84 234.86,298.87 236.00,292.30 C236.94,286.85 238.26,281.29 239.50,275.90 C240.34,272.28 241.72,268.67 242.30,265.00 C244.66,250.10 246.39,234.65 248.40,219.70" fill="none" stroke="#1ca56b" stroke-width="2.3" stroke-linejoin="round" stroke-linecap="round"/>
<path d="M200.00,319.50 C212.44,318.91 225.79,321.35 237.70,317.70 C241.33,316.59 240.78,310.55 241.40,306.80 C242.87,297.87 243.01,288.50 244.00,279.50 C244.53,274.70 245.52,269.81 246.00,265.00 C247.50,250.07 248.68,234.65 250.00,219.70" fill="none" stroke="#b27ddf" stroke-width="2.3" stroke-linejoin="round" stroke-linecap="round"/>
<path d="M69.50,319.60 C125.60,319.67 183.48,322.75 239.50,319.80 C242.70,319.63 241.93,313.68 242.30,310.50 C244.05,295.54 244.50,280.00 245.90,265.00 C247.30,250.03 249.18,234.65 250.80,219.70" fill="none" stroke="#e5a117" stroke-width="2.8" stroke-linejoin="round" stroke-linecap="round"/>
<path d="M69.5,321.6 L252.5,321.6" fill="none" stroke="#e5a117" stroke-width="2.8" stroke-linejoin="round" stroke-linecap="round"/>
<line x1="124.7" y1="305.2" x2="77.5" y2="325.2" stroke="#111" stroke-width="2.4"/>
<polygon points="72.4,327.3 76.3,322.4 78.6,327.9" fill="#111"/>
<rect x="321.5" y="210" width="185.5" height="131.0" fill="none" stroke="#1e1e1e" stroke-width="1.9"/>
<line x1="316.7" y1="320.4" x2="321.5" y2="320.4" stroke="#1e1e1e" stroke-width="1.5"/>
<line x1="316.7" y1="280.2" x2="321.5" y2="280.2" stroke="#1e1e1e" stroke-width="1.5"/>
<line x1="316.7" y1="240.0" x2="321.5" y2="240.0" stroke="#1e1e1e" stroke-width="1.5"/>
<line x1="318.5" y1="340.5" x2="321.5" y2="340.5" stroke="#1e1e1e" stroke-width="1.4"/>
<line x1="318.5" y1="300.3" x2="321.5" y2="300.3" stroke="#1e1e1e" stroke-width="1.4"/>
<line x1="318.5" y1="260.1" x2="321.5" y2="260.1" stroke="#1e1e1e" stroke-width="1.4"/>
<line x1="318.5" y1="219.9" x2="321.5" y2="219.9" stroke="#1e1e1e" stroke-width="1.4"/>
<text x="313.5" y="324.3" font-size="14" text-anchor="end" fill="#1a1a1a" stroke="#1a1a1a" stroke-width="0.35">0.0</text>
<text x="313.5" y="284.1" font-size="14" text-anchor="end" fill="#1a1a1a" stroke="#1a1a1a" stroke-width="0.35">0.4</text>
<text x="313.5" y="243.9" font-size="14" text-anchor="end" fill="#1a1a1a" stroke="#1a1a1a" stroke-width="0.35">0.8</text>
<line x1="321.5" y1="341" x2="321.5" y2="345.8" stroke="#1e1e1e" stroke-width="1.5"/>
<line x1="358.6" y1="341" x2="358.6" y2="345.8" stroke="#1e1e1e" stroke-width="1.5"/>
<line x1="395.7" y1="341" x2="395.7" y2="345.8" stroke="#1e1e1e" stroke-width="1.5"/>
<line x1="432.8" y1="341" x2="432.8" y2="345.8" stroke="#1e1e1e" stroke-width="1.5"/>
<line x1="469.9" y1="341" x2="469.9" y2="345.8" stroke="#1e1e1e" stroke-width="1.5"/>
<line x1="507.0" y1="341" x2="507.0" y2="345.8" stroke="#1e1e1e" stroke-width="1.5"/>
<line x1="340.1" y1="341" x2="340.1" y2="344.0" stroke="#1e1e1e" stroke-width="1.4"/>
<line x1="377.1" y1="341" x2="377.1" y2="344.0" stroke="#1e1e1e" stroke-width="1.4"/>
<line x1="414.2" y1="341" x2="414.2" y2="344.0" stroke="#1e1e1e" stroke-width="1.4"/>
<line x1="451.4" y1="341" x2="451.4" y2="344.0" stroke="#1e1e1e" stroke-width="1.4"/>
<line x1="488.4" y1="341" x2="488.4" y2="344.0" stroke="#1e1e1e" stroke-width="1.4"/>
<text x="321.5" y="359.5" font-size="14" text-anchor="middle" fill="#1a1a1a" stroke="#1a1a1a" stroke-width="0.35">0</text>
<text x="358.6" y="359.5" font-size="14" text-anchor="middle" fill="#1a1a1a" stroke="#1a1a1a" stroke-width="0.35">20</text>
<text x="395.7" y="359.5" font-size="14" text-anchor="middle" fill="#1a1a1a" stroke="#1a1a1a" stroke-width="0.35">40</text>
<text x="432.8" y="359.5" font-size="14" text-anchor="middle" fill="#1a1a1a" stroke="#1a1a1a" stroke-width="0.35">60</text>
<text x="469.9" y="359.5" font-size="14" text-anchor="middle" fill="#1a1a1a" stroke="#1a1a1a" stroke-width="0.35">80</text>
<text x="507.0" y="359.5" font-size="14" text-anchor="middle" fill="#1a1a1a" stroke="#1a1a1a" stroke-width="0.35">100</text>
<text x="414.8" y="377.0" font-size="15.2" text-anchor="middle" fill="#1a1a1a" stroke="#1a1a1a" stroke-width="0.35">Area specific capacity (μAh cm<tspan dy="-7" font-size="10">-2</tspan><tspan dy="7">)</tspan></text>
<text x="289.6" y="274.5" font-size="15.4" text-anchor="middle" fill="#1a1a1a" stroke="#1a1a1a" stroke-width="0.35" transform="rotate(-90 289.6 274.5)">Voltage (V)</text>
<text x="259.0" y="214.5" font-size="14.3" text-anchor="start" fill="#1a1a1a" stroke="#1a1a1a" stroke-width="0.35">(d)</text>
<text x="324.4" y="222.6" font-size="11" text-anchor="start" fill="#1a1a1a" stroke="#1a1a1a" stroke-width="0.35">Ag@Cu</text>
<text x="364.4" y="222.6" font-size="11" text-anchor="start" fill="#f0413c" stroke="#f0413c" stroke-width="0.35">1 C</text>
<line x1="363.8" y1="233.2" x2="381.8" y2="233.2" stroke="#4a4a4a" stroke-width="2.2"/>
<text x="384.8" y="236.8" font-size="10.5" text-anchor="start" fill="#1a1a1a" stroke="#1a1a1a" stroke-width="0.35">10th</text>
<line x1="363.8" y1="246.0" x2="381.8" y2="246.0" stroke="#f0413c" stroke-width="2.2"/>
<text x="384.8" y="249.6" font-size="10.5" text-anchor="start" fill="#1a1a1a" stroke="#1a1a1a" stroke-width="0.35">25th</text>
<line x1="363.8" y1="258.9" x2="381.8" y2="258.9" stroke="#1c6fdc" stroke-width="2.2"/>
<text x="384.8" y="262.5" font-size="10.5" text-anchor="start" fill="#1a1a1a" stroke="#1a1a1a" stroke-width="0.35">36th</text>
<line x1="363.8" y1="271.8" x2="381.8" y2="271.8" stroke="#1ca56b" stroke-width="2.2"/>
<text x="384.8" y="275.4" font-size="10.5" text-anchor="start" fill="#1a1a1a" stroke="#1a1a1a" stroke-width="0.35">45th</text>
<line x1="363.8" y1="284.6" x2="381.8" y2="284.6" stroke="#b27ddf" stroke-width="2.2"/>
<text x="384.8" y="288.2" font-size="10.5" text-anchor="start" fill="#1a1a1a" stroke="#1a1a1a" stroke-width="0.35">60th</text>
<line x1="363.8" y1="297.4" x2="381.8" y2="297.4" stroke="#e5a117" stroke-width="2.2"/>
<text x="384.8" y="301.1" font-size="10.5" text-anchor="start" fill="#1a1a1a" stroke="#1a1a1a" stroke-width="0.35">100th</text>
<path d="M322.3,236.0 L322.3,241.0" fill="none" stroke="#f0413c" stroke-width="2.3" stroke-linejoin="round" stroke-linecap="round"/>
<path d="M322.3,241.0 L322.3,318.0" fill="none" stroke="#e5a117" stroke-width="2.2" stroke-linejoin="round" stroke-linecap="round"/>
<path d="M322.50,310.00 C323.32,312.24 322.71,316.11 325.00,316.80 C331.32,318.71 338.40,316.80 345.00,316.80" fill="none" stroke="#4a4a4a" stroke-width="2.3" stroke-linejoin="round" stroke-linecap="round"/>
<path d="M322.50,312.00 C323.32,313.88 323.01,317.20 325.00,317.70 C331.40,319.32 338.40,317.70 345.00,317.70" fill="none" stroke="#f0413c" stroke-width="2.3" stroke-linejoin="round" stroke-linecap="round"/>
<path d="M330.00,317.80 C355.74,317.77 382.26,317.94 408.00,317.70 C417.01,317.61 426.32,317.53 435.30,316.80 C441.36,316.31 447.59,315.40 453.50,314.00 C457.83,312.98 461.96,310.84 466.20,309.50 C467.94,308.95 469.81,308.68 471.60,308.30 C474.01,307.79 476.74,307.97 478.90,306.80 C481.14,305.59 483.42,303.75 484.40,301.40 C486.53,296.29 485.18,289.77 488.00,285.00 C488.94,283.41 491.75,286.58 493.50,286.00 C495.72,285.27 497.91,283.52 498.90,281.40 C500.44,278.09 500.43,274.14 500.70,270.50 C501.45,260.45 501.54,250.06 502.00,240.00 C502.30,233.40 502.67,226.60 503.00,220.00" fill="none" stroke="#4a4a4a" stroke-width="2.3" stroke-linejoin="round" stroke-linecap="round"/>
<path d="M330.00,318.00 C371.91,317.60 415.12,318.51 457.00,316.80 C461.47,316.62 465.73,314.17 469.80,312.30 C473.59,310.56 477.07,307.96 480.70,305.90 C481.89,305.22 484.08,305.33 484.40,304.00 C486.02,297.30 484.54,289.89 486.20,283.20 C486.50,281.98 487.65,286.08 488.90,285.90 C490.56,285.66 491.78,283.82 492.50,282.30 C493.96,279.20 494.44,275.62 495.30,272.30 C495.92,269.91 496.80,267.47 497.00,265.00 C498.19,250.01 498.68,234.51 499.50,219.50" fill="none" stroke="#f0413c" stroke-width="2.3" stroke-linejoin="round" stroke-linecap="round"/>
<path d="M450.00,318.40 C457.13,318.23 464.55,318.97 471.60,317.90 C474.30,317.49 477.05,316.01 478.90,314.00 C481.16,311.55 482.48,308.18 483.50,305.00 C484.62,301.50 484.87,297.65 485.30,294.00 C485.76,290.15 485.49,286.11 486.20,282.30 C486.40,281.22 487.72,280.56 488.00,279.50 C489.23,274.79 490.34,269.85 490.70,265.00 C491.82,250.02 491.91,234.51 492.50,219.50" fill="none" stroke="#1c6fdc" stroke-width="2.3" stroke-linejoin="round" stroke-linecap="round"/>
<path d="M465.00,318.40 C470.77,318.27 476.80,318.91 482.50,318.00 C484.05,317.75 485.77,316.51 486.20,315.00 C488.27,307.70 488.65,299.80 489.80,292.30 C490.73,286.27 491.49,280.02 492.50,274.00 C493.00,271.01 494.12,268.02 494.40,265.00 C495.80,250.01 496.54,234.51 497.60,219.50" fill="none" stroke="#1ca56b" stroke-width="2.3" stroke-linejoin="round" stroke-linecap="round"/>
<path d="M480.00,318.50 C485.05,318.30 490.70,320.00 495.30,317.90 C497.62,316.84 497.14,313.02 497.50,310.50 C498.36,304.54 498.54,298.31 499.00,292.30 C499.69,283.29 500.50,274.02 501.00,265.00 C501.82,249.99 502.34,234.51 503.00,219.50" fill="none" stroke="#b27ddf" stroke-width="2.3" stroke-linejoin="round" stroke-linecap="round"/>
<path d="M322.50,319.00 C380.75,318.93 440.82,321.58 499.00,318.80 C501.79,318.67 500.51,313.29 500.70,310.50 C501.66,296.69 502.00,282.43 502.50,268.60 C503.09,252.40 503.50,235.70 504.00,219.50" fill="none" stroke="#e5a117" stroke-width="3.0" stroke-linejoin="round" stroke-linecap="round"/>
<path d="M322.5,322.5 L506.0,322.8" fill="none" stroke="#e5a117" stroke-width="2.6" stroke-linejoin="round" stroke-linecap="round"/>
<path d="M348.5,314.1 L325.3,326.8" fill="none" stroke="#111" stroke-width="2.6" stroke-linejoin="round" stroke-linecap="round"/>
<rect x="68.5" y="385" width="185.0" height="130.6" fill="none" stroke="#1e1e1e" stroke-width="1.9"/>
<line x1="63.7" y1="495.4" x2="68.5" y2="495.4" stroke="#1e1e1e" stroke-width="1.5"/>
<line x1="63.7" y1="455.2" x2="68.5" y2="455.2" stroke="#1e1e1e" stroke-width="1.5"/>
<line x1="63.7" y1="415.0" x2="68.5" y2="415.0" stroke="#1e1e1e" stroke-width="1.5"/>
<line x1="65.5" y1="515.5" x2="68.5" y2="515.5" stroke="#1e1e1e" stroke-width="1.4"/>
<line x1="65.5" y1="475.3" x2="68.5" y2="475.3" stroke="#1e1e1e" stroke-width="1.4"/>
<line x1="65.5" y1="435.1" x2="68.5" y2="435.1" stroke="#1e1e1e" stroke-width="1.4"/>
<line x1="65.5" y1="394.9" x2="68.5" y2="394.9" stroke="#1e1e1e" stroke-width="1.4"/>
<text x="60.5" y="499.3" font-size="14" text-anchor="end" fill="#1a1a1a" stroke="#1a1a1a" stroke-width="0.35">0.0</text>
<text x="60.5" y="459.1" font-size="14" text-anchor="end" fill="#1a1a1a" stroke="#1a1a1a" stroke-width="0.35">0.4</text>
<text x="60.5" y="418.9" font-size="14" text-anchor="end" fill="#1a1a1a" stroke="#1a1a1a" stroke-width="0.35">0.8</text>
<line x1="68.5" y1="515.6" x2="68.5" y2="520.4" stroke="#1e1e1e" stroke-width="1.5"/>
<line x1="105.5" y1="515.6" x2="105.5" y2="520.4" stroke="#1e1e1e" stroke-width="1.5"/>
<line x1="142.5" y1="515.6" x2="142.5" y2="520.4" stroke="#1e1e1e" stroke-width="1.5"/>
<line x1="179.5" y1="515.6" x2="179.5" y2="520.4" stroke="#1e1e1e" stroke-width="1.5"/>
<line x1="216.5" y1="515.6" x2="216.5" y2="520.4" stroke="#1e1e1e" stroke-width="1.5"/>
<line x1="253.5" y1="515.6" x2="253.5" y2="520.4" stroke="#1e1e1e" stroke-width="1.5"/>
<line x1="87.0" y1="515.6" x2="87.0" y2="518.6" stroke="#1e1e1e" stroke-width="1.4"/>
<line x1="124.0" y1="515.6" x2="124.0" y2="518.6" stroke="#1e1e1e" stroke-width="1.4"/>
<line x1="161.0" y1="515.6" x2="161.0" y2="518.6" stroke="#1e1e1e" stroke-width="1.4"/>
<line x1="198.0" y1="515.6" x2="198.0" y2="518.6" stroke="#1e1e1e" stroke-width="1.4"/>
<line x1="235.0" y1="515.6" x2="235.0" y2="518.6" stroke="#1e1e1e" stroke-width="1.4"/>
<text x="68.5" y="534.1" font-size="14" text-anchor="middle" fill="#1a1a1a" stroke="#1a1a1a" stroke-width="0.35">0</text>
<text x="105.5" y="534.1" font-size="14" text-anchor="middle" fill="#1a1a1a" stroke="#1a1a1a" stroke-width="0.35">20</text>
<text x="142.5" y="534.1" font-size="14" text-anchor="middle" fill="#1a1a1a" stroke="#1a1a1a" stroke-width="0.35">40</text>
<text x="179.5" y="534.1" font-size="14" text-anchor="middle" fill="#1a1a1a" stroke="#1a1a1a" stroke-width="0.35">60</text>
<text x="216.5" y="534.1" font-size="14" text-anchor="middle" fill="#1a1a1a" stroke="#1a1a1a" stroke-width="0.35">80</text>
<text x="253.5" y="534.1" font-size="14" text-anchor="middle" fill="#1a1a1a" stroke="#1a1a1a" stroke-width="0.35">100</text>
<text x="161.5" y="551.6" font-size="15.2" text-anchor="middle" fill="#1a1a1a" stroke="#1a1a1a" stroke-width="0.35">Area specific capacity (μAh cm<tspan dy="-7" font-size="10">-2</tspan><tspan dy="7">)</tspan></text>
<text x="35.1" y="449.3" font-size="15.4" text-anchor="middle" fill="#1a1a1a" stroke="#1a1a1a" stroke-width="0.35" transform="rotate(-90 35.1 449.3)">Voltage (V)</text>
<text x="7.0" y="392.0" font-size="14.3" text-anchor="start" fill="#1a1a1a" stroke="#1a1a1a" stroke-width="0.35">(e)</text>
<text x="71.4" y="397.6" font-size="11" text-anchor="start" fill="#1a1a1a" stroke="#1a1a1a" stroke-width="0.35">Ag@Cu</text>
<text x="111.4" y="397.6" font-size="11" text-anchor="start" fill="#b27ddf" stroke="#b27ddf" stroke-width="0.35">10 C</text>
<line x1="110.5" y1="408.2" x2="128.5" y2="408.2" stroke="#4a4a4a" stroke-width="2.2"/>
<text x="131.5" y="411.8" font-size="10.5" text-anchor="start" fill="#1a1a1a" stroke="#1a1a1a" stroke-width="0.35">10th</text>
<line x1="110.5" y1="421.1" x2="128.5" y2="421.1" stroke="#f0413c" stroke-width="2.2"/>
<text x="131.5" y="424.7" font-size="10.5" text-anchor="start" fill="#1a1a1a" stroke="#1a1a1a" stroke-width="0.35">20th</text>
<line x1="110.5" y1="433.9" x2="128.5" y2="433.9" stroke="#1c6fdc" stroke-width="2.2"/>
<text x="131.5" y="437.5" font-size="10.5" text-anchor="start" fill="#1a1a1a" stroke="#1a1a1a" stroke-width="0.35">29th</text>
<line x1="110.5" y1="446.8" x2="128.5" y2="446.8" stroke="#1ca56b" stroke-width="2.2"/>
<text x="131.5" y="450.4" font-size="10.5" text-anchor="start" fill="#1a1a1a" stroke="#1a1a1a" stroke-width="0.35">45th</text>
<line x1="110.5" y1="459.6" x2="128.5" y2="459.6" stroke="#b27ddf" stroke-width="2.2"/>
<text x="131.5" y="463.2" font-size="10.5" text-anchor="start" fill="#1a1a1a" stroke="#1a1a1a" stroke-width="0.35">70th</text>
<line x1="110.5" y1="472.4" x2="128.5" y2="472.4" stroke="#e5a117" stroke-width="2.2"/>
<text x="131.5" y="476.1" font-size="10.5" text-anchor="start" fill="#1a1a1a" stroke="#1a1a1a" stroke-width="0.35">100th</text>
<path d="M69.3,460.0 L69.3,473.0" fill="none" stroke="#f0413c" stroke-width="2.3" stroke-linejoin="round" stroke-linecap="round"/>
<path d="M69.3,473.0 L69.3,485.0" fill="none" stroke="#1c6fdc" stroke-width="2.3" stroke-linejoin="round" stroke-linecap="round"/>
<path d="M69.3,485.0 L69.3,490.0" fill="none" stroke="#b27ddf" stroke-width="2.3" stroke-linejoin="round" stroke-linecap="round"/>
<path d="M69.3,490.0 L69.3,497.0" fill="none" stroke="#e5a117" stroke-width="2.3" stroke-linejoin="round" stroke-linecap="round"/>
<path d="M70.00,496.00 C70.99,494.68 71.59,492.85 73.00,492.00 C75.06,490.76 77.60,490.17 80.00,490.00 C89.88,489.28 100.10,489.40 110.00,489.30 C133.76,489.07 158.26,490.03 182.00,489.00 C191.16,488.60 200.54,486.94 209.50,485.00 C215.11,483.79 220.76,481.85 226.00,479.50 C228.92,478.19 232.13,476.60 234.00,474.00 C236.48,470.56 237.37,466.06 238.60,462.00 C239.82,457.95 239.34,453.19 241.40,449.50 C242.34,447.82 245.89,448.99 246.80,447.30 C248.85,443.50 249.21,438.81 249.50,434.50 C250.43,420.73 250.17,406.49 250.50,392.70" fill="none" stroke="#4a4a4a" stroke-width="2.3" stroke-linejoin="round" stroke-linecap="round"/>
<path d="M150.00,489.00 C169.63,487.85 189.96,487.76 209.50,485.50 C215.73,484.78 221.89,482.37 227.70,480.00 C230.07,479.03 232.65,477.67 234.00,475.50 C235.90,472.44 236.44,468.56 237.00,465.00 C238.10,457.96 237.56,450.48 239.00,443.50 C239.32,441.97 239.39,449.11 240.50,448.00 C242.42,446.08 242.28,442.71 242.50,440.00 C243.94,422.05 244.51,403.49 245.50,385.50" fill="none" stroke="#f0413c" stroke-width="2.3" stroke-linejoin="round" stroke-linecap="round"/>
<path d="M70.00,495.00 C70.99,493.68 71.54,491.76 73.00,491.00 C75.08,489.92 77.66,489.84 80.00,489.80 C121.25,489.11 163.76,489.76 205.00,488.80 C211.97,488.64 219.54,489.04 226.00,486.40 C229.05,485.15 230.25,481.09 231.40,478.00 C232.93,473.90 233.53,469.35 234.00,465.00 C234.89,456.78 235.05,448.25 235.50,440.00 C236.41,423.21 237.24,405.90 238.10,389.10" fill="none" stroke="#1c6fdc" stroke-width="2.3" stroke-linejoin="round" stroke-linecap="round"/>
<path d="M120.00,489.00 C154.65,488.87 190.37,489.65 225.00,488.60 C228.45,488.49 232.80,488.17 235.00,485.50 C238.19,481.63 238.63,475.93 239.50,471.00 C240.76,463.82 241.01,456.28 241.40,449.00 C242.53,428.06 243.21,406.45 244.10,385.50" fill="none" stroke="#1ca56b" stroke-width="2.3" stroke-linejoin="round" stroke-linecap="round"/>
<path d="M70.00,496.00 C70.99,494.85 71.66,493.22 73.00,492.50 C75.11,491.36 77.61,490.64 80.00,490.60 C128.83,489.75 179.17,490.71 228.00,489.80 C232.19,489.72 237.55,490.57 240.50,487.60 C243.61,484.47 242.64,478.88 243.20,474.50 C244.12,467.34 244.70,459.91 245.00,452.70 C245.89,431.13 246.21,408.88 246.80,387.30" fill="none" stroke="#e5a117" stroke-width="3.0" stroke-linejoin="round" stroke-linecap="round"/>
<path d="M245.00,440.00 C245.82,423.50 246.43,406.49 247.50,390.00 C247.59,388.64 248.17,387.32 248.50,386.00" fill="none" stroke="#b27ddf" stroke-width="1.4" stroke-linejoin="round" stroke-linecap="round"/>
<path d="M70.00,495.00 C71.65,495.82 73.20,497.12 75.00,497.50 C81.52,498.88 88.34,500.19 95.00,500.30 C146.97,501.18 200.53,500.43 252.50,500.50" fill="none" stroke="#f0413c" stroke-width="2.2" stroke-linejoin="round" stroke-linecap="round"/>
<path d="M70.00,497.50 C71.65,498.19 73.23,499.35 75.00,499.60 C81.55,500.52 88.38,500.95 95.00,501.00 C146.97,501.41 200.53,501.00 252.50,501.00" fill="none" stroke="#e5a117" stroke-width="3.0" stroke-linejoin="round" stroke-linecap="round"/>
<path d="M206.0,502.9 L252.5,502.9" fill="none" stroke="#9fc0ee" stroke-width="1.0" stroke-linejoin="round" stroke-linecap="round"/>
<path d="M82.0,494.5 L68.7,502.5" fill="none" stroke="#111" stroke-width="2.6" stroke-linejoin="round" stroke-linecap="round"/>
<rect x="321.5" y="385" width="185.5" height="130.6" fill="none" stroke="#1e1e1e" stroke-width="1.9"/>
<line x1="316.7" y1="500.4" x2="321.5" y2="500.4" stroke="#1e1e1e" stroke-width="1.5"/>
<line x1="316.7" y1="469.4" x2="321.5" y2="469.4" stroke="#1e1e1e" stroke-width="1.5"/>
<line x1="316.7" y1="438.4" x2="321.5" y2="438.4" stroke="#1e1e1e" stroke-width="1.5"/>
<line x1="316.7" y1="407.4" x2="321.5" y2="407.4" stroke="#1e1e1e" stroke-width="1.5"/>
<line x1="318.5" y1="515.9" x2="321.5" y2="515.9" stroke="#1e1e1e" stroke-width="1.4"/>
<line x1="318.5" y1="484.9" x2="321.5" y2="484.9" stroke="#1e1e1e" stroke-width="1.4"/>
<line x1="318.5" y1="453.9" x2="321.5" y2="453.9" stroke="#1e1e1e" stroke-width="1.4"/>
<line x1="318.5" y1="422.9" x2="321.5" y2="422.9" stroke="#1e1e1e" stroke-width="1.4"/>
<line x1="318.5" y1="391.9" x2="321.5" y2="391.9" stroke="#1e1e1e" stroke-width="1.4"/>
<text x="313.5" y="504.3" font-size="14" text-anchor="end" fill="#1a1a1a" stroke="#1a1a1a" stroke-width="0.35">0.0</text>
<text x="313.5" y="473.3" font-size="14" text-anchor="end" fill="#1a1a1a" stroke="#1a1a1a" stroke-width="0.35">0.4</text>
<text x="313.5" y="442.3" font-size="14" text-anchor="end" fill="#1a1a1a" stroke="#1a1a1a" stroke-width="0.35">0.8</text>
<text x="313.5" y="411.3" font-size="14" text-anchor="end" fill="#1a1a1a" stroke="#1a1a1a" stroke-width="0.35">1.2</text>
<line x1="321.5" y1="515.6" x2="321.5" y2="520.4" stroke="#1e1e1e" stroke-width="1.5"/>
<line x1="358.6" y1="515.6" x2="358.6" y2="520.4" stroke="#1e1e1e" stroke-width="1.5"/>
<line x1="395.7" y1="515.6" x2="395.7" y2="520.4" stroke="#1e1e1e" stroke-width="1.5"/>
<line x1="432.8" y1="515.6" x2="432.8" y2="520.4" stroke="#1e1e1e" stroke-width="1.5"/>
<line x1="469.9" y1="515.6" x2="469.9" y2="520.4" stroke="#1e1e1e" stroke-width="1.5"/>
<line x1="507.0" y1="515.6" x2="507.0" y2="520.4" stroke="#1e1e1e" stroke-width="1.5"/>
<line x1="340.1" y1="515.6" x2="340.1" y2="518.6" stroke="#1e1e1e" stroke-width="1.4"/>
<line x1="377.1" y1="515.6" x2="377.1" y2="518.6" stroke="#1e1e1e" stroke-width="1.4"/>
<line x1="414.2" y1="515.6" x2="414.2" y2="518.6" stroke="#1e1e1e" stroke-width="1.4"/>
<line x1="451.4" y1="515.6" x2="451.4" y2="518.6" stroke="#1e1e1e" stroke-width="1.4"/>
<line x1="488.4" y1="515.6" x2="488.4" y2="518.6" stroke="#1e1e1e" stroke-width="1.4"/>
<text x="321.5" y="534.1" font-size="14" text-anchor="middle" fill="#1a1a1a" stroke="#1a1a1a" stroke-width="0.35">0</text>
<text x="358.6" y="534.1" font-size="14" text-anchor="middle" fill="#1a1a1a" stroke="#1a1a1a" stroke-width="0.35">20</text>
<text x="395.7" y="534.1" font-size="14" text-anchor="middle" fill="#1a1a1a" stroke="#1a1a1a" stroke-width="0.35">40</text>
<text x="432.8" y="534.1" font-size="14" text-anchor="middle" fill="#1a1a1a" stroke="#1a1a1a" stroke-width="0.35">60</text>
<text x="469.9" y="534.1" font-size="14" text-anchor="middle" fill="#1a1a1a" stroke="#1a1a1a" stroke-width="0.35">80</text>
<text x="507.0" y="534.1" font-size="14" text-anchor="middle" fill="#1a1a1a" stroke="#1a1a1a" stroke-width="0.35">100</text>
<text x="414.8" y="551.6" font-size="15.2" text-anchor="middle" fill="#1a1a1a" stroke="#1a1a1a" stroke-width="0.35">Area specific capacity (μAh cm<tspan dy="-7" font-size="10">-2</tspan><tspan dy="7">)</tspan></text>
<text x="289.6" y="449.3" font-size="15.4" text-anchor="middle" fill="#1a1a1a" stroke="#1a1a1a" stroke-width="0.35" transform="rotate(-90 289.6 449.3)">Voltage (V)</text>
<text x="259.0" y="392.0" font-size="14.3" text-anchor="start" fill="#1a1a1a" stroke="#1a1a1a" stroke-width="0.35">(f)</text>
<text x="327.1" y="397.6" font-size="11" text-anchor="start" fill="#1a1a1a" stroke="#1a1a1a" stroke-width="0.35">Cu</text>
<text x="364.9" y="397.6" font-size="11" text-anchor="start" fill="#f0413c" stroke="#f0413c" stroke-width="0.35">1 C</text>
<line x1="363.8" y1="408.2" x2="381.8" y2="408.2" stroke="#4a4a4a" stroke-width="2.2"/>
<text x="384.8" y="411.8" font-size="10.5" text-anchor="start" fill="#1a1a1a" stroke="#1a1a1a" stroke-width="0.35">1st</text>
<line x1="363.8" y1="421.1" x2="381.8" y2="421.1" stroke="#f0413c" stroke-width="2.2"/>
<text x="384.8" y="424.7" font-size="10.5" text-anchor="start" fill="#1a1a1a" stroke="#1a1a1a" stroke-width="0.35">25th</text>
<line x1="363.8" y1="433.9" x2="381.8" y2="433.9" stroke="#1c6fdc" stroke-width="2.2"/>
<text x="384.8" y="437.5" font-size="10.5" text-anchor="start" fill="#1a1a1a" stroke="#1a1a1a" stroke-width="0.35">36th</text>
<line x1="363.8" y1="446.8" x2="381.8" y2="446.8" stroke="#1ca56b" stroke-width="2.2"/>
<text x="384.8" y="450.4" font-size="10.5" text-anchor="start" fill="#1a1a1a" stroke="#1a1a1a" stroke-width="0.35">45th</text>
<line x1="363.8" y1="459.6" x2="381.8" y2="459.6" stroke="#b27ddf" stroke-width="2.2"/>
<text x="384.8" y="463.2" font-size="10.5" text-anchor="start" fill="#1a1a1a" stroke="#1a1a1a" stroke-width="0.35">60th</text>
<line x1="363.8" y1="472.4" x2="381.8" y2="472.4" stroke="#e5a117" stroke-width="2.2"/>
<text x="384.8" y="476.1" font-size="10.5" text-anchor="start" fill="#1a1a1a" stroke="#1a1a1a" stroke-width="0.35">100th</text>
<path d="M322.3,431.0 L322.3,500.0" fill="none" stroke="#e5a117" stroke-width="2.2" stroke-linejoin="round" stroke-linecap="round"/>
<path d="M322.00,393.00 C322.33,393.66 322.79,394.29 323.00,395.00 C324.18,399.02 325.30,403.20 326.20,407.30 C328.14,416.08 329.59,425.24 331.60,434.00 C332.82,439.34 334.54,444.72 336.00,450.00 C337.24,454.49 338.61,459.09 339.80,463.60 C341.38,469.59 343.12,475.74 344.40,481.80 C345.53,487.17 345.85,492.86 347.10,498.20 C347.54,500.10 347.89,502.50 349.50,503.60 C351.00,504.62 353.19,503.64 355.00,503.60 C358.30,503.54 361.70,503.40 365.00,503.30" fill="none" stroke="#4a4a4a" stroke-width="2.3" stroke-linejoin="round" stroke-linecap="round"/>
<path d="M340.00,498.00 C374.45,497.77 409.96,498.08 444.40,497.30 C446.28,497.26 448.62,496.96 449.80,495.50 C451.59,493.29 452.17,490.13 452.50,487.30 C454.29,471.75 455.09,455.62 456.20,440.00 C456.61,434.30 456.80,428.41 457.10,422.70" fill="none" stroke="#4a4a4a" stroke-width="2.3" stroke-linejoin="round" stroke-linecap="round"/>
<path d="M323.00,498.40 C379.69,498.14 438.16,499.99 494.80,497.60 C497.28,497.50 498.12,493.47 498.40,491.00 C499.93,477.54 499.49,463.52 500.20,450.00 C500.68,440.98 501.41,431.71 502.00,422.70" fill="none" stroke="#b27ddf" stroke-width="2.2" stroke-linejoin="round" stroke-linecap="round"/>
<path d="M323.00,498.40 C379.76,498.14 438.29,499.99 495.00,497.60 C497.48,497.50 498.32,493.47 498.60,491.00 C500.13,477.54 499.69,463.52 500.40,450.00 C500.88,440.98 501.61,431.71 502.20,422.70" fill="none" stroke="#1c6fdc" stroke-width="2.2" stroke-linejoin="round" stroke-linecap="round"/>
<path d="M323.00,498.40 C379.46,498.14 437.69,499.99 494.10,497.60 C496.58,497.50 497.42,493.47 497.70,491.00 C499.23,477.54 498.79,463.52 499.50,450.00 C499.98,440.98 500.71,431.71 501.30,422.70" fill="none" stroke="#f0413c" stroke-width="2.2" stroke-linejoin="round" stroke-linecap="round"/>
<path d="M323.00,498.40 C379.86,498.14 438.49,499.99 495.30,497.60 C497.78,497.50 498.62,493.47 498.90,491.00 C500.43,477.54 499.99,463.52 500.70,450.00 C501.18,440.98 501.91,431.71 502.50,422.70" fill="none" stroke="#1ca56b" stroke-width="2.2" stroke-linejoin="round" stroke-linecap="round"/>
<path d="M323.00,498.40 C380.22,498.14 439.23,499.99 496.40,497.60 C498.88,497.50 499.72,493.47 500.00,491.00 C501.53,477.54 501.09,463.52 501.80,450.00 C502.28,440.98 503.01,431.71 503.60,422.70" fill="none" stroke="#e5a117" stroke-width="2.2" stroke-linejoin="round" stroke-linecap="round"/>
<path d="M323.0,497.4 L494.0,497.4" fill="none" stroke="#1ca56b" stroke-width="1.0" stroke-linejoin="round" stroke-linecap="round"/>
<path d="M322.5,499.2 L495.0,499.0" fill="none" stroke="#e5a117" stroke-width="3.0" stroke-linejoin="round" stroke-linecap="round"/>
<path d="M322.5,502.2 L506.0,502.2" fill="none" stroke="#e5a117" stroke-width="2.6" stroke-linejoin="round" stroke-linecap="round"/>
<rect x="68.5" y="563.4" width="185.0" height="130.2" fill="none" stroke="#1e1e1e" stroke-width="1.9"/>
<line x1="63.7" y1="673.6" x2="68.5" y2="673.6" stroke="#1e1e1e" stroke-width="1.5"/>
<line x1="63.7" y1="633.3" x2="68.5" y2="633.3" stroke="#1e1e1e" stroke-width="1.5"/>
<line x1="63.7" y1="593.0" x2="68.5" y2="593.0" stroke="#1e1e1e" stroke-width="1.5"/>
<line x1="65.5" y1="693.8" x2="68.5" y2="693.8" stroke="#1e1e1e" stroke-width="1.4"/>
<line x1="65.5" y1="653.5" x2="68.5" y2="653.5" stroke="#1e1e1e" stroke-width="1.4"/>
<line x1="65.5" y1="613.1" x2="68.5" y2="613.1" stroke="#1e1e1e" stroke-width="1.4"/>
<line x1="65.5" y1="572.9" x2="68.5" y2="572.9" stroke="#1e1e1e" stroke-width="1.4"/>
<text x="60.5" y="677.5" font-size="14" text-anchor="end" fill="#1a1a1a" stroke="#1a1a1a" stroke-width="0.35">0.0</text>
<text x="60.5" y="637.2" font-size="14" text-anchor="end" fill="#1a1a1a" stroke="#1a1a1a" stroke-width="0.35">0.4</text>
<text x="60.5" y="596.9" font-size="14" text-anchor="end" fill="#1a1a1a" stroke="#1a1a1a" stroke-width="0.35">0.8</text>
<line x1="68.5" y1="693.6" x2="68.5" y2="698.4" stroke="#1e1e1e" stroke-width="1.5"/>
<line x1="105.5" y1="693.6" x2="105.5" y2="698.4" stroke="#1e1e1e" stroke-width="1.5"/>
<line x1="142.5" y1="693.6" x2="142.5" y2="698.4" stroke="#1e1e1e" stroke-width="1.5"/>
<line x1="179.5" y1="693.6" x2="179.5" y2="698.4" stroke="#1e1e1e" stroke-width="1.5"/>
<line x1="216.5" y1="693.6" x2="216.5" y2="698.4" stroke="#1e1e1e" stroke-width="1.5"/>
<line x1="253.5" y1="693.6" x2="253.5" y2="698.4" stroke="#1e1e1e" stroke-width="1.5"/>
<line x1="87.0" y1="693.6" x2="87.0" y2="696.6" stroke="#1e1e1e" stroke-width="1.4"/>
<line x1="124.0" y1="693.6" x2="124.0" y2="696.6" stroke="#1e1e1e" stroke-width="1.4"/>
<line x1="161.0" y1="693.6" x2="161.0" y2="696.6" stroke="#1e1e1e" stroke-width="1.4"/>
<line x1="198.0" y1="693.6" x2="198.0" y2="696.6" stroke="#1e1e1e" stroke-width="1.4"/>
<line x1="235.0" y1="693.6" x2="235.0" y2="696.6" stroke="#1e1e1e" stroke-width="1.4"/>
<text x="68.5" y="712.1" font-size="14" text-anchor="middle" fill="#1a1a1a" stroke="#1a1a1a" stroke-width="0.35">0</text>
<text x="105.5" y="712.1" font-size="14" text-anchor="middle" fill="#1a1a1a" stroke="#1a1a1a" stroke-width="0.35">20</text>
<text x="142.5" y="712.1" font-size="14" text-anchor="middle" fill="#1a1a1a" stroke="#1a1a1a" stroke-width="0.35">40</text>
<text x="179.5" y="712.1" font-size="14" text-anchor="middle" fill="#1a1a1a" stroke="#1a1a1a" stroke-width="0.35">60</text>
<text x="216.5" y="712.1" font-size="14" text-anchor="middle" fill="#1a1a1a" stroke="#1a1a1a" stroke-width="0.35">80</text>
<text x="253.5" y="712.1" font-size="14" text-anchor="middle" fill="#1a1a1a" stroke="#1a1a1a" stroke-width="0.35">100</text>
<text x="161.5" y="729.6" font-size="15.2" text-anchor="middle" fill="#1a1a1a" stroke="#1a1a1a" stroke-width="0.35">Area specific capacity (μAh cm<tspan dy="-7" font-size="10">-2</tspan><tspan dy="7">)</tspan></text>
<text x="35.1" y="627.5" font-size="15.4" text-anchor="middle" fill="#1a1a1a" stroke="#1a1a1a" stroke-width="0.35" transform="rotate(-90 35.1 627.5)">Voltage (V)</text>
<text x="7.0" y="566.0" font-size="14.3" text-anchor="start" fill="#1a1a1a" stroke="#1a1a1a" stroke-width="0.35">(g)</text>
<text x="73.2" y="573.6" font-size="9" text-anchor="start" fill="#1a1a1a" stroke="#1a1a1a" stroke-width="0.35">Ag@Cu</text>
<text x="107.7" y="573.6" font-size="8.7" text-anchor="start" fill="#1a1a1a" stroke="#1a1a1a" stroke-width="0.35">First cycle</text>
<line x1="72.3" y1="581.8" x2="88.6" y2="581.8" stroke="#5ec43a" stroke-width="2"/>
<text x="90.5" y="584.4" font-size="8.7" text-anchor="start" fill="#2a2a2a" stroke="#2a2a2a" stroke-width="0.15">1 C (Discharge) 5 C (Charge)</text>
<line x1="72.3" y1="592.4" x2="88.6" y2="592.4" stroke="#ff2a1f" stroke-width="2"/>
<text x="90.5" y="595.0" font-size="8.7" text-anchor="start" fill="#2a2a2a" stroke="#2a2a2a" stroke-width="0.15">1 C (Discharge/Charge)</text>
<line x1="72.3" y1="603.1" x2="88.6" y2="603.1" stroke="#11782a" stroke-width="2"/>
<text x="90.5" y="605.7" font-size="8.7" text-anchor="start" fill="#2a2a2a" stroke="#2a2a2a" stroke-width="0.15">5 C (Discharge) 1 C (Charge)</text>
<text x="89.0" y="620.0" font-size="14.5" text-anchor="start" fill="#5ec43a" stroke="#5ec43a" stroke-width="0.35">7.64 μAh cm<tspan dy="-6" font-size="10">-2</tspan></text>
<text x="90.5" y="637.3" font-size="14.5" text-anchor="start" fill="#ff2a1f" stroke="#ff2a1f" stroke-width="0.35">8.81 μAh cm<tspan dy="-6" font-size="10">-2</tspan></text>
<text x="94.0" y="654.5" font-size="14.5" text-anchor="start" fill="#11782a" stroke="#11782a" stroke-width="0.35">6.04 μAh cm<tspan dy="-6" font-size="10">-2</tspan></text>
<path d="M69.60,563.80 C70.36,585.65 70.99,608.16 71.90,630.00 C72.11,634.96 72.57,640.06 73.00,645.00 C73.60,651.94 73.94,659.12 75.00,666.00 C75.27,667.76 75.29,670.51 77.00,671.00 C78.85,671.53 80.08,668.07 82.00,668.00 C89.61,667.73 97.49,668.71 105.00,670.00 C109.11,670.71 112.88,673.35 117.00,674.00 C124.51,675.18 132.39,675.41 140.00,675.50 C177.12,675.94 215.38,675.57 252.50,675.60" fill="none" stroke="#ff2a1f" stroke-width="2.2" stroke-linejoin="round" stroke-linecap="round"/>
<path d="M69.00,667.60 C92.76,667.73 117.26,669.03 141.00,668.00 C152.33,667.51 163.95,665.54 175.00,663.00 C179.03,662.08 182.77,659.74 186.30,657.60 C188.42,656.31 190.80,654.87 192.00,652.70 C193.89,649.27 194.35,645.10 195.30,641.30 C195.97,638.63 195.97,635.70 196.90,633.10 C197.36,631.81 198.26,630.55 199.40,629.80 C200.82,628.86 202.97,629.26 204.30,628.20 C205.83,626.99 206.74,625.05 207.60,623.30 C208.90,620.67 210.01,617.83 210.80,615.00 C211.34,613.08 211.53,611.00 211.60,609.00 C212.09,595.81 212.20,582.20 212.50,569.00" fill="none" stroke="#5ec43a" stroke-width="2.3" stroke-linejoin="round" stroke-linecap="round"/>
<path d="M69.00,675.00 C85.83,675.00 103.20,676.03 120.00,675.00 C134.95,674.08 150.35,672.19 165.00,669.10 C171.28,667.77 176.94,663.82 183.00,661.70 C186.96,660.32 192.00,661.08 195.30,658.50 C197.79,656.55 197.92,652.59 198.60,649.50 C199.54,645.25 198.27,640.30 200.20,636.40 C200.84,635.10 202.85,638.00 204.30,638.00 C206.00,638.00 208.05,637.65 209.20,636.40 C211.25,634.17 212.06,630.96 213.30,628.20 C214.50,625.54 215.57,622.73 216.60,620.00 C216.93,619.13 217.37,618.23 217.40,617.30 C217.90,602.46 217.94,587.15 218.20,572.30" fill="none" stroke="#ff2a1f" stroke-width="2.3" stroke-linejoin="round" stroke-linecap="round"/>
<path d="M70.0,672.6 L252.5,672.6" fill="none" stroke="#11782a" stroke-width="2.2" stroke-linejoin="round" stroke-linecap="round"/>
<path d="M69.50,676.00 C70.33,676.86 70.81,678.58 72.00,678.60 C131.56,679.45 192.94,678.60 252.50,678.60" fill="none" stroke="#11782a" stroke-width="2.2" stroke-linejoin="round" stroke-linecap="round"/>
<path d="M165.00,672.40 C175.79,672.14 186.92,672.13 197.70,671.60 C203.13,671.33 208.78,671.11 214.10,670.00 C218.06,669.18 221.93,667.49 225.60,665.80 C227.90,664.74 229.80,662.77 232.10,661.70 C233.87,660.87 236.15,661.15 237.80,660.10 C239.27,659.17 240.66,657.68 241.10,656.00 C242.07,652.32 241.38,648.27 241.90,644.50 C242.21,642.30 242.31,639.80 243.60,638.00 C244.45,636.82 246.80,637.54 247.70,636.40 C249.14,634.58 249.55,632.05 250.10,629.80 C250.88,626.62 251.45,623.27 251.70,620.00 C252.21,613.42 252.28,606.60 252.40,600.00 C252.57,590.76 252.53,581.24 252.60,572.00" fill="none" stroke="#11782a" stroke-width="2.3" stroke-linejoin="round" stroke-linecap="round"/>
<line x1="197.8" y1="609.6" x2="197.8" y2="623" stroke="#5ec43a" stroke-width="1.8" stroke-dasharray="1.6,2.2"/>
<line x1="212.8" y1="589" x2="212.8" y2="621" stroke="#5ec43a" stroke-width="1.8" stroke-dasharray="1.6,2.2"/>
<line x1="202" y1="607" x2="202" y2="640" stroke="#ff2a1f" stroke-width="1.8" stroke-dasharray="1.6,2.2"/>
<line x1="219.4" y1="572.4" x2="219.4" y2="640" stroke="#ff2a1f" stroke-width="1.8" stroke-dasharray="1.6,2.2"/>
<line x1="242.8" y1="583.2" x2="242.8" y2="637" stroke="#11782a" stroke-width="1.8" stroke-dasharray="1.6,2.2"/>
<path d="M212.5,609.0 L198.0,609.0" fill="none" stroke="#5ec43a" stroke-width="1.9" stroke-linejoin="round" stroke-linecap="round"/>
<line x1="198.0" y1="609.0" x2="187.9" y2="611.0" stroke="#5ec43a" stroke-width="1.9"/>
<polygon points="183.0,612.0 187.4,608.3 188.5,613.8" fill="#5ec43a"/>
<path d="M219.4,624.0 L202.0,624.0" fill="none" stroke="#ff2a1f" stroke-width="1.9" stroke-linejoin="round" stroke-linecap="round"/>
<line x1="202.0" y1="624.0" x2="189.5" y2="626.9" stroke="#ff2a1f" stroke-width="1.9"/>
<polygon points="184.6,628.0 188.8,624.2 190.1,629.6" fill="#ff2a1f"/>
<path d="M254.0,621.4 L242.7,621.4" fill="none" stroke="#11782a" stroke-width="1.8" stroke-linejoin="round" stroke-linecap="round"/>
<line x1="242.7" y1="621.4" x2="191.0" y2="641.1" stroke="#11782a" stroke-width="1.8"/>
<polygon points="186.3,642.9 190.0,638.5 192.0,643.7" fill="#11782a"/>
<rect x="349.4" y="601" width="19.0" height="92.6" fill="#6cd4f9" stroke="#4aa6cf" stroke-width="0.8"/>
<rect x="368.4" y="638.2" width="18.6" height="55.4" fill="#fbbde5" stroke="#e9a2cf" stroke-width="0.8"/>
<rect x="396" y="652.6" width="18.4" height="41.0" fill="#6cd4f9" stroke="#4aa6cf" stroke-width="0.8"/>
<rect x="414.4" y="615.6" width="18.6" height="78.0" fill="#fbbde5" stroke="#e9a2cf" stroke-width="0.8"/>
<rect x="442.4" y="684.4" width="18.6" height="9.2" fill="#6cd4f9" stroke="#4aa6cf" stroke-width="0.8"/>
<rect x="461" y="602.8" width="18.5" height="90.8" fill="#fbbde5" stroke="#e9a2cf" stroke-width="0.8"/>
<line x1="321.5" y1="563.4" x2="507.4" y2="563.4" stroke="#1e1e1e" stroke-width="1.6"/>
<line x1="321.5" y1="693.6" x2="507.4" y2="693.6" stroke="#1e1e1e" stroke-width="1.6"/>
<line x1="321.5" y1="562.6" x2="321.5" y2="693.6" stroke="#22b8f0" stroke-width="1.6"/>
<line x1="507.4" y1="562.6" x2="507.4" y2="694.4" stroke="#f77fc0" stroke-width="1.6"/>
<line x1="316.7" y1="693.6" x2="321.5" y2="693.6" stroke="#22b8f0" stroke-width="1.5"/>
<line x1="316.7" y1="656.2" x2="321.5" y2="656.2" stroke="#22b8f0" stroke-width="1.5"/>
<line x1="316.7" y1="618.8" x2="321.5" y2="618.8" stroke="#22b8f0" stroke-width="1.5"/>
<line x1="316.7" y1="581.4" x2="321.5" y2="581.4" stroke="#22b8f0" stroke-width="1.5"/>
<line x1="318.5" y1="674.9" x2="321.5" y2="674.9" stroke="#22b8f0" stroke-width="1.4"/>
<line x1="318.5" y1="637.5" x2="321.5" y2="637.5" stroke="#22b8f0" stroke-width="1.4"/>
<line x1="318.5" y1="600.1" x2="321.5" y2="600.1" stroke="#22b8f0" stroke-width="1.4"/>
<text x="314.0" y="697.5" font-size="14" text-anchor="end" fill="#2ab6ee" stroke="#2ab6ee" stroke-width="0.2" font-weight="normal">0</text>
<text x="314.0" y="660.1" font-size="14" text-anchor="end" fill="#2ab6ee" stroke="#2ab6ee" stroke-width="0.2" font-weight="normal">40</text>
<text x="314.0" y="622.7" font-size="14" text-anchor="end" fill="#2ab6ee" stroke="#2ab6ee" stroke-width="0.2" font-weight="normal">80</text>
<text x="314.0" y="585.3" font-size="14" text-anchor="end" fill="#2ab6ee" stroke="#2ab6ee" stroke-width="0.2" font-weight="normal">120</text>
<line x1="512.2" y1="693.6" x2="507.4" y2="693.6" stroke="#f77fc0" stroke-width="1.5"/>
<line x1="512.2" y1="650.2" x2="507.4" y2="650.2" stroke="#f77fc0" stroke-width="1.5"/>
<line x1="512.2" y1="606.8" x2="507.4" y2="606.8" stroke="#f77fc0" stroke-width="1.5"/>
<line x1="512.2" y1="563.4" x2="507.4" y2="563.4" stroke="#f77fc0" stroke-width="1.5"/>
<line x1="510.4" y1="671.9" x2="507.4" y2="671.9" stroke="#f77fc0" stroke-width="1.4"/>
<line x1="510.4" y1="628.5" x2="507.4" y2="628.5" stroke="#f77fc0" stroke-width="1.4"/>
<line x1="510.4" y1="585.1" x2="507.4" y2="585.1" stroke="#f77fc0" stroke-width="1.4"/>
<text x="514.9" y="697.5" font-size="14" text-anchor="start" fill="#f47cc0" stroke="#f47cc0" stroke-width="0.2" font-weight="normal">94</text>
<text x="514.9" y="654.1" font-size="14" text-anchor="start" fill="#f47cc0" stroke="#f47cc0" stroke-width="0.2" font-weight="normal">95</text>
<text x="514.9" y="610.7" font-size="14" text-anchor="start" fill="#f47cc0" stroke="#f47cc0" stroke-width="0.2" font-weight="normal">96</text>
<text x="514.9" y="567.3" font-size="14" text-anchor="start" fill="#f47cc0" stroke="#f47cc0" stroke-width="0.2" font-weight="normal">97</text>
<line x1="321.5" y1="693.6" x2="321.5" y2="698.4" stroke="#1e1e1e" stroke-width="1.5"/>
<line x1="368.4" y1="693.6" x2="368.4" y2="698.4" stroke="#1e1e1e" stroke-width="1.5"/>
<line x1="414.4" y1="693.6" x2="414.4" y2="698.4" stroke="#1e1e1e" stroke-width="1.5"/>
<line x1="461" y1="693.6" x2="461" y2="698.4" stroke="#1e1e1e" stroke-width="1.5"/>
<line x1="507.4" y1="693.6" x2="507.4" y2="698.4" stroke="#1e1e1e" stroke-width="1.5"/>
<text x="368.4" y="714.1" font-size="14" text-anchor="middle" fill="#1a1a1a" stroke="#1a1a1a" stroke-width="0.35">0.1 C</text>
<text x="414.4" y="714.1" font-size="14" text-anchor="middle" fill="#1a1a1a" stroke="#1a1a1a" stroke-width="0.35">1 C</text>
<text x="461.0" y="714.1" font-size="14" text-anchor="middle" fill="#1a1a1a" stroke="#1a1a1a" stroke-width="0.35">10 C</text>
<text x="415.4" y="730.0" font-size="15" text-anchor="middle" fill="#1a1a1a" stroke="#1a1a1a" stroke-width="0.35">Cycle rate</text>
<text x="289.7" y="636.5" font-size="15.4" text-anchor="middle" fill="#1a1a1a" stroke="#1a1a1a" stroke-width="0.35" transform="rotate(-90 289.7 636.5)">Area capacity (μAh cm<tspan dy="-7" font-size="10">-2</tspan><tspan dy="7">)</tspan></text>
<text x="541.4" y="628.0" font-size="15" text-anchor="middle" fill="#1a1a1a" stroke="#1a1a1a" stroke-width="0.35" transform="rotate(-90 541.4 628.0)">Average CE (%)</text>
<text x="259.0" y="568.5" font-size="14.3" text-anchor="start" fill="#1a1a1a" stroke="#1a1a1a" stroke-width="0.35">(h)</text>
<rect x="324.5" y="568.7" width="16" height="7.7" fill="#6cd4f9" stroke="#4aa6cf" stroke-width="0.8"/>
<rect x="324.5" y="582.7" width="16" height="7.8" fill="#fbbde5" stroke="#e9a2cf" stroke-width="0.8"/>
<text x="344.5" y="574.8" font-size="11.6" text-anchor="start" fill="#1a1a1a" stroke="#1a1a1a" stroke-width="0.35">Alloy reaction capacity <tspan font-size="10">(1st cycle)</tspan></text>
<text x="344.5" y="589.0" font-size="11.6" text-anchor="start" fill="#1a1a1a" stroke="#1a1a1a" stroke-width="0.35">Average CE</text>
<text x="357.5" y="598.2" font-size="10.5" text-anchor="middle" fill="#1a1a1a" stroke="#1a1a1a" stroke-width="0.35">100</text>
<text x="377.5" y="634.5" font-size="10.5" text-anchor="middle" fill="#1a1a1a" stroke="#1a1a1a" stroke-width="0.35">95.3</text>
<text x="405.0" y="649.5" font-size="10.5" text-anchor="middle" fill="#1a1a1a" stroke="#1a1a1a" stroke-width="0.35">44.8</text>
<text x="424.0" y="612.5" font-size="10.5" text-anchor="middle" fill="#1a1a1a" stroke="#1a1a1a" stroke-width="0.35">95.8</text>
<text x="451.5" y="681.0" font-size="10.5" text-anchor="middle" fill="#1a1a1a" stroke="#1a1a1a" stroke-width="0.35">10.3</text>
<text x="471.0" y="599.5" font-size="10.5" text-anchor="middle" fill="#1a1a1a" stroke="#1a1a1a" stroke-width="0.35">96.1</text>
</svg>
</body></html>
